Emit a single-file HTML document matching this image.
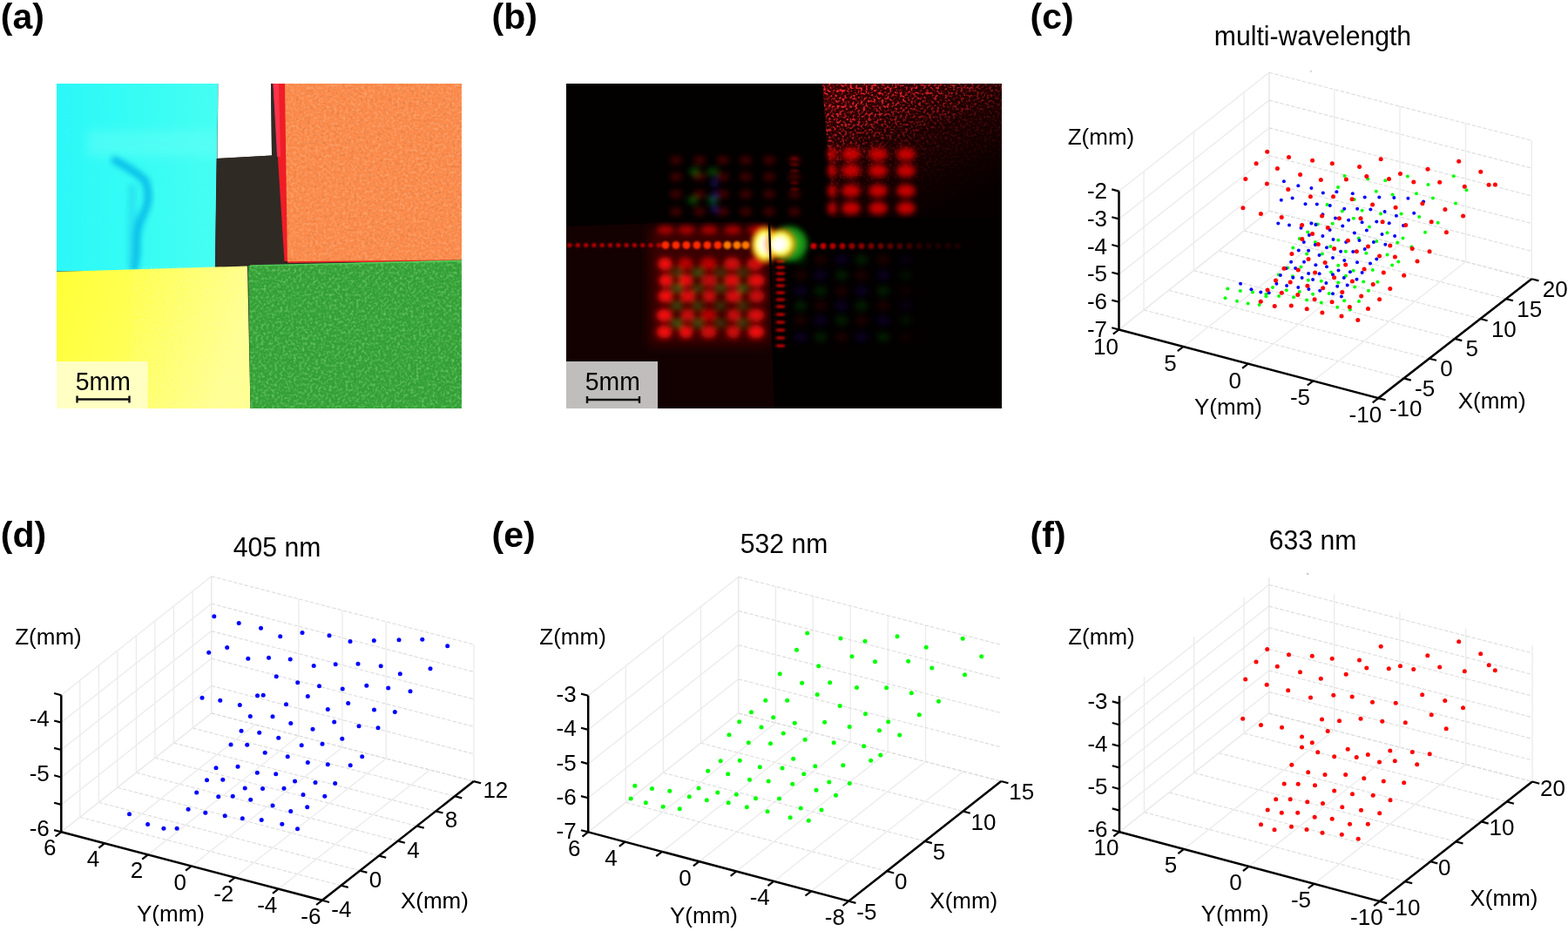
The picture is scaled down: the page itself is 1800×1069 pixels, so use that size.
<!DOCTYPE html>
<html><head><meta charset="utf-8"><style>
html,body{margin:0;padding:0;background:#fff;}
svg{display:block;}
text{font-family:'Liberation Sans', Arial, Helvetica, sans-serif;fill:#000;}
.gs{stroke:#ebebeb;stroke-width:1.3;}
.gd{stroke:#dcdcdc;stroke-width:1.1;stroke-dasharray:4.5 2;}
.ax{stroke:#000;stroke-width:2.5;fill:none;stroke-linejoin:miter;}
.tk{stroke:#000;stroke-width:2.2;}
.lbl{font-weight:bold;font-size:41px;}
</style></head><body>
<svg width="1800" height="1069" viewBox="0 0 1800 1069">
<rect width="1800" height="1069" fill="#fff"/>

<defs>
<filter id="spkW" x="0" y="0" width="100%" height="100%">
  <feTurbulence type="fractalNoise" baseFrequency="0.45" numOctaves="2" seed="4"/>
  <feColorMatrix type="matrix" values="0 0 0 0 1  0 0 0 0 1  0 0 0 0 1  2.2 0 0 0 -1.05"/>
  <feComposite in2="SourceGraphic" operator="in"/>
</filter>
<filter id="spkD" x="0" y="0" width="100%" height="100%">
  <feTurbulence type="fractalNoise" baseFrequency="0.3" numOctaves="2" seed="11"/>
  <feColorMatrix type="matrix" values="0 0 0 0 0  0 0 0 0 0  0 0 0 0 0  2.0 0 0 0 -0.95"/>
  <feComposite in2="SourceGraphic" operator="in"/>
</filter>
<filter id="spkO" x="0" y="0" width="100%" height="100%">
  <feTurbulence type="fractalNoise" baseFrequency="0.32" numOctaves="2" seed="5"/>
  <feColorMatrix type="matrix" values="0 0 0 0 1  0 0 0 0 0.66  0 0 0 0 0.42  2.6 0 0 0 -1.15"/>
  <feGaussianBlur stdDeviation="0.6"/>
  <feComposite in2="SourceGraphic" operator="in"/>
</filter>
<filter id="spkG" x="0" y="0" width="100%" height="100%">
  <feTurbulence type="fractalNoise" baseFrequency="0.32" numOctaves="2" seed="9"/>
  <feColorMatrix type="matrix" values="0 0 0 0 0.36  0 0 0 0 0.84  0 0 0 0 0.3  2.6 0 0 0 -1.15"/>
  <feGaussianBlur stdDeviation="0.6"/>
  <feComposite in2="SourceGraphic" operator="in"/>
</filter>
<filter id="redN" x="0" y="0" width="100%" height="100%">
  <feTurbulence type="fractalNoise" baseFrequency="0.33" numOctaves="2" seed="7"/>
  <feColorMatrix type="matrix" values="0 0 0 0 0.9  0 0 0 0 0.02  0 0 0 0 0.03  5 0 0 0 -2.45"/>
  <feComposite in2="SourceGraphic" operator="in"/>
</filter>
<filter id="bl2" x="-20%" y="-20%" width="140%" height="140%"><feGaussianBlur stdDeviation="2.2"/></filter>
<filter id="bl3" x="-20%" y="-20%" width="140%" height="140%"><feGaussianBlur stdDeviation="3"/></filter>
<filter id="bl1" x="-20%" y="-20%" width="140%" height="140%"><feGaussianBlur stdDeviation="1.2"/></filter>
<filter id="bl4" x="-30%" y="-30%" width="160%" height="160%"><feGaussianBlur stdDeviation="4"/></filter>
<filter id="bl6" x="-50%" y="-50%" width="200%" height="200%"><feGaussianBlur stdDeviation="6"/></filter>
<linearGradient id="yelG" x1="0" y1="0" x2="1" y2="0.25">
  <stop offset="0" stop-color="#ffff36"/><stop offset="0.45" stop-color="#ffff55"/><stop offset="1" stop-color="#ffff92"/>
</linearGradient>
<linearGradient id="cyG" x1="0" y1="0" x2="1" y2="0">
  <stop offset="0" stop-color="#2cf8f8"/><stop offset="0.5" stop-color="#36fcf4"/><stop offset="1" stop-color="#46fef2"/>
</linearGradient>
<linearGradient id="redFade" x1="0.1" y1="0" x2="0.6" y2="1">
  <stop offset="0" stop-color="#fff" stop-opacity="1"/><stop offset="0.25" stop-color="#fff" stop-opacity="0.75"/><stop offset="0.5" stop-color="#fff" stop-opacity="0.2"/><stop offset="0.75" stop-color="#fff" stop-opacity="0.04"/><stop offset="1" stop-color="#fff" stop-opacity="0"/>
</linearGradient>
<mask id="redMask" maskUnits="userSpaceOnUse" x="940" y="96" width="210" height="160">
  <rect x="940" y="96" width="210" height="160" fill="url(#redFade)"/>
</mask>
<radialGradient id="core" cx="0.5" cy="0.5" r="0.5">
  <stop offset="0" stop-color="#ffffff"/><stop offset="0.35" stop-color="#ffffe0"/><stop offset="0.6" stop-color="#ffff40"/><stop offset="0.85" stop-color="#ff8000" stop-opacity="0.6"/><stop offset="1" stop-color="#ff0000" stop-opacity="0"/>
</radialGradient>
<radialGradient id="halo" cx="0.5" cy="0.5" r="0.5">
  <stop offset="0" stop-color="#40ff20" stop-opacity="0.9"/><stop offset="0.7" stop-color="#20c020" stop-opacity="0.7"/><stop offset="1" stop-color="#00a000" stop-opacity="0"/>
</radialGradient>
<linearGradient id="rbase" x1="0" y1="0" x2="0.6" y2="1">
  <stop offset="0" stop-color="#3a0000"/><stop offset="0.5" stop-color="#1c0000"/><stop offset="1" stop-color="#060000"/>
</linearGradient>
<clipPath id="clipB"><rect x="650" y="96" width="500" height="373"/></clipPath>
</defs>
<g><rect x="65" y="96" width="465" height="373" fill="#2a2420"/><polygon points="65,96 250.5,96 246.8,311 65,311.5" fill="url(#cyG)"/><g filter="url(#bl6)" opacity="0.45"><rect x="100" y="150" width="150" height="30" fill="#6afff6"/></g><g filter="url(#bl3)" opacity="0.8"><path d="M132,184 C142,190 158,198 167,208 C172,222 170,235 165,245 C158,258 156,270 157,285 C157,295 155,302 154,309" stroke="#00b0e6" stroke-width="9" fill="none" stroke-linecap="round"/><path d="M152,212 C152,240 151,270 151,305" stroke="#10c0ea" stroke-width="8" fill="none" opacity="0.55"/></g><polygon points="250.5,96 311,96 312,178.5 249.5,182" fill="#ffffff"/><polygon points="248.5,182 312,178.5 311,96 316,96 327,303 247,305.5" fill="#302a25"/><polygon points="313.5,96 328,96 331,300 326.5,300" fill="#f01c26"/><polygon points="313.5,96 320,96 322,180 318,180" fill="#ff3a58" opacity="0.8"/><polygon points="327,96 530,96 530,299.5 330,301.5" fill="#fc8a4a"/><polygon points="327,96 530,96 530,299.5 330,301.5" filter="url(#spkO)" opacity="0.35"/><polygon points="327,96 530,96 530,299.5 330,301.5" filter="url(#spkD)" opacity="0.1"/><line x1="330" y1="301" x2="530" y2="299" stroke="#ee2222" stroke-width="1.5"/><polygon points="65,312 284,305.5 287.5,469 65,469" fill="url(#yelG)"/><polygon points="150,306 284,305.5 287.5,469 150,469" filter="url(#spkW)" opacity="0.3"/><polygon points="285,305 530,298.5 530,469 287.5,469" fill="#33a036"/><polygon points="285,305 530,298.5 530,469 287.5,469" filter="url(#spkG)" opacity="0.45"/><line x1="287" y1="305" x2="530" y2="299.5" stroke="#58d860" stroke-width="1.5" opacity="0.8"/><rect x="65" y="415" width="104.5" height="54" fill="#ffffc4"/><text transform="translate(86.8,448.3) scale(0.945,1)" font-size="30" font-family="'Liberation Sans', Arial, Helvetica, sans-serif" fill="#111">5mm</text><path d="M88 458.5H149M88.5 454.5v8M148.5 454.5v8" stroke="#111" stroke-width="2.4" fill="none"/></g>
<g clip-path="url(#clipB)"><rect x="650" y="96" width="500" height="373" fill="#030000"/><polygon points="650,260 760,256 884,255 890,469 650,469" fill="#130101"/><g filter="url(#bl6)"><rect x="745" y="262" width="140" height="135" fill="#3a0404"/></g><polygon points="944,96 1150,96 1150,250 956,250" fill="url(#rbase)"/><g mask="url(#redMask)"><polygon points="944,96 1150,96 1150,250 956,250" filter="url(#redN)"/></g><g filter="url(#bl3)"><ellipse cx="776" cy="184" rx="7" ry="5" fill="#a00000" opacity="0.4"/><ellipse cx="776" cy="203" rx="7" ry="5" fill="#a00000" opacity="0.4"/><ellipse cx="776" cy="223" rx="7" ry="5" fill="#a00000" opacity="0.4"/><ellipse cx="776" cy="243" rx="7" ry="5" fill="#a00000" opacity="0.4"/><ellipse cx="803" cy="184" rx="7" ry="5" fill="#a00000" opacity="0.4"/><ellipse cx="803" cy="203" rx="7" ry="5" fill="#a00000" opacity="0.4"/><ellipse cx="803" cy="223" rx="7" ry="5" fill="#a00000" opacity="0.4"/><ellipse cx="803" cy="243" rx="7" ry="5" fill="#a00000" opacity="0.4"/><ellipse cx="830" cy="184" rx="7" ry="5" fill="#a00000" opacity="0.4"/><ellipse cx="830" cy="203" rx="7" ry="5" fill="#a00000" opacity="0.4"/><ellipse cx="830" cy="223" rx="7" ry="5" fill="#a00000" opacity="0.4"/><ellipse cx="830" cy="243" rx="7" ry="5" fill="#a00000" opacity="0.4"/><ellipse cx="856" cy="184" rx="7" ry="5" fill="#a00000" opacity="0.4"/><ellipse cx="856" cy="203" rx="7" ry="5" fill="#a00000" opacity="0.4"/><ellipse cx="856" cy="223" rx="7" ry="5" fill="#a00000" opacity="0.4"/><ellipse cx="856" cy="243" rx="7" ry="5" fill="#a00000" opacity="0.4"/><ellipse cx="883" cy="184" rx="7" ry="5" fill="#a00000" opacity="0.4"/><ellipse cx="883" cy="203" rx="7" ry="5" fill="#a00000" opacity="0.4"/><ellipse cx="883" cy="223" rx="7" ry="5" fill="#a00000" opacity="0.4"/><ellipse cx="883" cy="243" rx="7" ry="5" fill="#a00000" opacity="0.4"/><ellipse cx="912" cy="184" rx="7" ry="5" fill="#a00000" opacity="0.4"/><ellipse cx="912" cy="203" rx="7" ry="5" fill="#a00000" opacity="0.4"/><ellipse cx="912" cy="223" rx="7" ry="5" fill="#a00000" opacity="0.4"/><ellipse cx="912" cy="243" rx="7" ry="5" fill="#a00000" opacity="0.4"/><ellipse cx="797" cy="197" rx="6" ry="4" fill="#00a000" opacity="0.45"/><ellipse cx="818" cy="197" rx="6" ry="4" fill="#00a000" opacity="0.45"/><ellipse cx="795" cy="230" rx="6" ry="4" fill="#00a000" opacity="0.45"/><ellipse cx="818" cy="230" rx="6" ry="4" fill="#00a000" opacity="0.45"/><ellipse cx="820" cy="210" rx="3" ry="5" fill="#3020d0" opacity="0.5"/><ellipse cx="820" cy="225" rx="3" ry="5" fill="#3020d0" opacity="0.5"/><ellipse cx="820" cy="240" rx="3" ry="5" fill="#3020d0" opacity="0.5"/><ellipse cx="955" cy="177" rx="5" ry="7.5" fill="#f00808" opacity="0.8"/><ellipse cx="955" cy="196" rx="5" ry="7.5" fill="#f00808" opacity="0.8"/><ellipse cx="955" cy="219" rx="5" ry="7.5" fill="#f00808" opacity="0.8"/><ellipse cx="955" cy="239" rx="5" ry="7.5" fill="#f00808" opacity="0.8"/><ellipse cx="977" cy="177" rx="11" ry="7.5" fill="#f00808" opacity="0.8"/><ellipse cx="977" cy="196" rx="11" ry="7.5" fill="#f00808" opacity="0.8"/><ellipse cx="977" cy="219" rx="11" ry="7.5" fill="#f00808" opacity="0.8"/><ellipse cx="977" cy="239" rx="11" ry="7.5" fill="#f00808" opacity="0.8"/><ellipse cx="1008" cy="177" rx="11" ry="7.5" fill="#f00808" opacity="0.8"/><ellipse cx="1008" cy="196" rx="11" ry="7.5" fill="#f00808" opacity="0.8"/><ellipse cx="1008" cy="219" rx="11" ry="7.5" fill="#f00808" opacity="0.8"/><ellipse cx="1008" cy="239" rx="11" ry="7.5" fill="#f00808" opacity="0.8"/><ellipse cx="1040" cy="177" rx="11" ry="7.5" fill="#f00808" opacity="0.8"/><ellipse cx="1040" cy="196" rx="11" ry="7.5" fill="#f00808" opacity="0.8"/><ellipse cx="1040" cy="219" rx="11" ry="7.5" fill="#f00808" opacity="0.8"/><ellipse cx="1040" cy="239" rx="11" ry="7.5" fill="#f00808" opacity="0.8"/><ellipse cx="763.4714982944995" cy="303" rx="8.377122934811254" ry="7.5" fill="#ff0a0a" opacity="0.95"/><ellipse cx="764.4528034191195" cy="322" rx="8.181090716668857" ry="7.5" fill="#ff0a0a" opacity="0.95"/><ellipse cx="764.1076460129201" cy="340" rx="8.914222292281464" ry="7.5" fill="#ff0a0a" opacity="0.95"/><ellipse cx="762.6739967743241" cy="362" rx="9.268589332973551" ry="7.5" fill="#ff0a0a" opacity="0.95"/><ellipse cx="762.612486975326" cy="381" rx="9.084114209155965" ry="7.5" fill="#ff0a0a" opacity="0.95"/><ellipse cx="786.7721390400316" cy="303" rx="9.061297972856284" ry="7.5" fill="#ff0a0a" opacity="0.6244493982511166"/><ellipse cx="786.8714058834489" cy="322" rx="8.558097411517537" ry="7.5" fill="#ff0a0a" opacity="0.8893982436352132"/><ellipse cx="789.3431268273711" cy="340" rx="9.442757371543747" ry="7.5" fill="#ff0a0a" opacity="0.8196016278419562"/><ellipse cx="789.4287653167787" cy="362" rx="8.11645670154439" ry="7.5" fill="#ff0a0a" opacity="0.738838166127773"/><ellipse cx="787.368827858995" cy="381" rx="8.360637708393593" ry="7.5" fill="#ff0a0a" opacity="0.9004639606670377"/><ellipse cx="813.4254454723058" cy="303" rx="10.040315897800077" ry="7.5" fill="#ff0a0a" opacity="0.6412272833274288"/><ellipse cx="814.2448004909874" cy="322" rx="9.59728367231546" ry="7.5" fill="#ff0a0a" opacity="0.663254232973378"/><ellipse cx="814.1432333971287" cy="340" rx="8.156972437433307" ry="7.5" fill="#ff0a0a" opacity="0.7303391399540059"/><ellipse cx="813.117876138458" cy="362" rx="9.700999932954465" ry="7.5" fill="#ff0a0a" opacity="0.6208604094881814"/><ellipse cx="813.4424415111304" cy="381" rx="9.463904658769097" ry="7.5" fill="#ff0a0a" opacity="0.749657306984291"/><ellipse cx="840.3993009905911" cy="303" rx="9.985948703806228" ry="7.5" fill="#ff0a0a" opacity="0.7586145317297713"/><ellipse cx="840.2322895321664" cy="322" rx="9.436059275646677" ry="7.5" fill="#ff0a0a" opacity="0.8446480518053499"/><ellipse cx="842.1254124867203" cy="340" rx="9.823613223598045" ry="7.5" fill="#ff0a0a" opacity="0.783818776334008"/><ellipse cx="842.4405245424778" cy="362" rx="8.295164445637406" ry="7.5" fill="#ff0a0a" opacity="0.7007782177115652"/><ellipse cx="841.7714227886958" cy="381" rx="8.379961336651261" ry="7.5" fill="#ff0a0a" opacity="0.7463429876248295"/><ellipse cx="866.6176217711424" cy="303" rx="9.670539641335989" ry="7.5" fill="#ff0a0a" opacity="0.7711370851665319"/><ellipse cx="868.2190778208321" cy="322" rx="10.188694529577221" ry="7.5" fill="#ff0a0a" opacity="0.8675998031744845"/><ellipse cx="868.585886098821" cy="340" rx="9.485924692762547" ry="7.5" fill="#ff0a0a" opacity="0.7098116294968339"/><ellipse cx="867.8686159939042" cy="362" rx="10.099919451281353" ry="7.5" fill="#ff0a0a" opacity="0.8029633214988723"/><ellipse cx="867.9222950122589" cy="381" rx="9.660380513686686" ry="7.5" fill="#ff0a0a" opacity="0.930638383287778"/><ellipse cx="777" cy="313" rx="5" ry="4" fill="#20c020" opacity="0.3182008282791659"/><ellipse cx="777" cy="331" rx="5" ry="4" fill="#20c020" opacity="0.5104476063913271"/><ellipse cx="777" cy="351" rx="5" ry="4" fill="#20c020" opacity="0.4941386563583006"/><ellipse cx="777" cy="371" rx="5" ry="4" fill="#20c020" opacity="0.5979287818399902"/><ellipse cx="801" cy="313" rx="5" ry="4" fill="#20c020" opacity="0.5465774359829144"/><ellipse cx="801" cy="331" rx="5" ry="4" fill="#20c020" opacity="0.38537865962824475"/><ellipse cx="801" cy="351" rx="5" ry="4" fill="#20c020" opacity="0.4157374327340132"/><ellipse cx="801" cy="371" rx="5" ry="4" fill="#20c020" opacity="0.5005958147652565"/><ellipse cx="827" cy="313" rx="5" ry="4" fill="#20c020" opacity="0.30676887841667655"/><ellipse cx="827" cy="331" rx="5" ry="4" fill="#20c020" opacity="0.43850858588992975"/><ellipse cx="827" cy="351" rx="5" ry="4" fill="#20c020" opacity="0.35041451367196336"/><ellipse cx="827" cy="371" rx="5" ry="4" fill="#20c020" opacity="0.33512873834451956"/><ellipse cx="853" cy="313" rx="5" ry="4" fill="#20c020" opacity="0.3176863257993931"/><ellipse cx="853" cy="331" rx="5" ry="4" fill="#20c020" opacity="0.5304698965417562"/><ellipse cx="853" cy="351" rx="5" ry="4" fill="#20c020" opacity="0.33880206660560525"/><ellipse cx="853" cy="371" rx="5" ry="4" fill="#20c020" opacity="0.3742844501090743"/><ellipse cx="764" cy="264" rx="10" ry="5" fill="#e00000" opacity="0.7"/><ellipse cx="788" cy="264" rx="10" ry="5" fill="#e00000" opacity="0.7"/><ellipse cx="814" cy="264" rx="10" ry="5" fill="#e00000" opacity="0.7"/><ellipse cx="841" cy="264" rx="10" ry="5" fill="#e00000" opacity="0.7"/><ellipse cx="868" cy="264" rx="10" ry="5" fill="#e00000" opacity="0.7"/><ellipse cx="919" cy="298" rx="7.5" ry="5.5" fill="#008a00" opacity="0.2"/><ellipse cx="919" cy="316" rx="7.5" ry="5.5" fill="#800000" opacity="0.2"/><ellipse cx="919" cy="334" rx="7.5" ry="5.5" fill="#2a10a0" opacity="0.2"/><ellipse cx="919" cy="351" rx="7.5" ry="5.5" fill="#008a00" opacity="0.2"/><ellipse cx="919" cy="368" rx="7.5" ry="5.5" fill="#800000" opacity="0.2"/><ellipse cx="919" cy="387" rx="7.5" ry="5.5" fill="#2a10a0" opacity="0.2"/><ellipse cx="942" cy="298" rx="7.5" ry="5.5" fill="#800000" opacity="0.2"/><ellipse cx="942" cy="316" rx="7.5" ry="5.5" fill="#2a10a0" opacity="0.2"/><ellipse cx="942" cy="334" rx="7.5" ry="5.5" fill="#008a00" opacity="0.2"/><ellipse cx="942" cy="351" rx="7.5" ry="5.5" fill="#800000" opacity="0.2"/><ellipse cx="942" cy="368" rx="7.5" ry="5.5" fill="#2a10a0" opacity="0.2"/><ellipse cx="942" cy="387" rx="7.5" ry="5.5" fill="#008a00" opacity="0.2"/><ellipse cx="966" cy="298" rx="7.5" ry="5.5" fill="#2a10a0" opacity="0.2"/><ellipse cx="966" cy="316" rx="7.5" ry="5.5" fill="#008a00" opacity="0.2"/><ellipse cx="966" cy="334" rx="7.5" ry="5.5" fill="#800000" opacity="0.2"/><ellipse cx="966" cy="351" rx="7.5" ry="5.5" fill="#2a10a0" opacity="0.2"/><ellipse cx="966" cy="368" rx="7.5" ry="5.5" fill="#008a00" opacity="0.2"/><ellipse cx="966" cy="387" rx="7.5" ry="5.5" fill="#800000" opacity="0.2"/><ellipse cx="989" cy="298" rx="7.5" ry="5.5" fill="#008a00" opacity="0.2"/><ellipse cx="989" cy="316" rx="7.5" ry="5.5" fill="#800000" opacity="0.2"/><ellipse cx="989" cy="334" rx="7.5" ry="5.5" fill="#2a10a0" opacity="0.2"/><ellipse cx="989" cy="351" rx="7.5" ry="5.5" fill="#008a00" opacity="0.2"/><ellipse cx="989" cy="368" rx="7.5" ry="5.5" fill="#800000" opacity="0.2"/><ellipse cx="989" cy="387" rx="7.5" ry="5.5" fill="#2a10a0" opacity="0.2"/><ellipse cx="1014" cy="298" rx="7.5" ry="5.5" fill="#800000" opacity="0.2"/><ellipse cx="1014" cy="316" rx="7.5" ry="5.5" fill="#2a10a0" opacity="0.2"/><ellipse cx="1014" cy="334" rx="7.5" ry="5.5" fill="#008a00" opacity="0.2"/><ellipse cx="1014" cy="351" rx="7.5" ry="5.5" fill="#800000" opacity="0.2"/><ellipse cx="1014" cy="368" rx="7.5" ry="5.5" fill="#2a10a0" opacity="0.2"/><ellipse cx="1014" cy="387" rx="7.5" ry="5.5" fill="#008a00" opacity="0.2"/><ellipse cx="1040" cy="298" rx="7.5" ry="5.5" fill="#2a10a0" opacity="0.1"/><ellipse cx="1040" cy="316" rx="7.5" ry="5.5" fill="#008a00" opacity="0.1"/><ellipse cx="1040" cy="334" rx="7.5" ry="5.5" fill="#800000" opacity="0.1"/><ellipse cx="1040" cy="351" rx="7.5" ry="5.5" fill="#2a10a0" opacity="0.1"/><ellipse cx="1040" cy="368" rx="7.5" ry="5.5" fill="#008a00" opacity="0.1"/><ellipse cx="1040" cy="387" rx="7.5" ry="5.5" fill="#800000" opacity="0.1"/></g><g filter="url(#bl1)"><ellipse cx="654" cy="281.5" rx="2.6" ry="2.6" fill="#d00000" opacity="0.9"/><ellipse cx="663.3" cy="281.5" rx="2.6" ry="2.6" fill="#d00000" opacity="0.9"/><ellipse cx="672.6" cy="281.5" rx="2.6" ry="2.6" fill="#d00000" opacity="0.9"/><ellipse cx="681.9" cy="281.5" rx="2.6" ry="2.6" fill="#d00000" opacity="0.9"/><ellipse cx="691.2" cy="281.5" rx="2.6" ry="2.6" fill="#d00000" opacity="0.9"/><ellipse cx="700.5" cy="281.5" rx="2.6" ry="2.6" fill="#d00000" opacity="0.9"/><ellipse cx="709.8" cy="281.5" rx="2.6" ry="2.6" fill="#d00000" opacity="0.9"/><ellipse cx="719.1" cy="281.5" rx="2.6" ry="2.6" fill="#d00000" opacity="0.9"/><ellipse cx="728.4" cy="281.5" rx="2.6" ry="2.6" fill="#d00000" opacity="0.9"/><ellipse cx="737.7" cy="281.5" rx="2.6" ry="2.6" fill="#d00000" opacity="0.9"/><ellipse cx="747.0" cy="281.5" rx="2.6" ry="2.6" fill="#d00000" opacity="0.9"/><ellipse cx="756.3" cy="281.5" rx="2.6" ry="2.6" fill="#d00000" opacity="0.9"/><ellipse cx="764" cy="281.5" rx="4.5" ry="4.5" fill="#ff2a00" opacity="1"/><ellipse cx="776" cy="281.5" rx="4.5" ry="4.5" fill="#ff2a00" opacity="1"/><ellipse cx="788" cy="281.5" rx="4.5" ry="4.5" fill="#ff2a00" opacity="1"/><ellipse cx="800" cy="281.5" rx="4.5" ry="4.5" fill="#ff2a00" opacity="1"/><ellipse cx="812" cy="281.5" rx="4.5" ry="4.5" fill="#ff2a00" opacity="1"/><ellipse cx="824" cy="281.5" rx="4.5" ry="4.5" fill="#ff2a00" opacity="1"/><ellipse cx="835" cy="281.5" rx="4.5" ry="4.5" fill="#ff7a00" opacity="1"/><ellipse cx="846" cy="281.5" rx="4.5" ry="4.5" fill="#ff7a00" opacity="1"/><ellipse cx="856" cy="281.5" rx="4.5" ry="4.5" fill="#ff7a00" opacity="1"/><ellipse cx="934" cy="282.5" rx="3.5" ry="3.5" fill="#e00000" opacity="0.95"/><ellipse cx="945" cy="282.5" rx="3.5" ry="3.5" fill="#e00000" opacity="0.88125"/><ellipse cx="956" cy="282.5" rx="3.5" ry="3.5" fill="#e00000" opacity="0.8125"/><ellipse cx="967" cy="282.5" rx="3.5" ry="3.5" fill="#e00000" opacity="0.7437499999999999"/><ellipse cx="978" cy="282.5" rx="3.5" ry="3.5" fill="#e00000" opacity="0.6749999999999999"/><ellipse cx="989" cy="282.5" rx="3.5" ry="3.5" fill="#e00000" opacity="0.60625"/><ellipse cx="1000" cy="282.5" rx="3.5" ry="3.5" fill="#e00000" opacity="0.5375"/><ellipse cx="1011" cy="282.5" rx="3.5" ry="3.5" fill="#e00000" opacity="0.46874999999999994"/><ellipse cx="1022" cy="282.5" rx="3.5" ry="3.5" fill="#e00000" opacity="0.3999999999999999"/><ellipse cx="1033" cy="282.5" rx="3.5" ry="3.5" fill="#e00000" opacity="0.33124999999999993"/><ellipse cx="1044" cy="282.5" rx="3.5" ry="3.5" fill="#e00000" opacity="0.26249999999999996"/><ellipse cx="1055" cy="282.5" rx="3.5" ry="3.5" fill="#e00000" opacity="0.19374999999999998"/><ellipse cx="1066" cy="282.5" rx="3.5" ry="3.5" fill="#e00000" opacity="0.125"/><ellipse cx="1077" cy="282.5" rx="3.5" ry="3.5" fill="#e00000" opacity="0.12"/><ellipse cx="1088" cy="282.5" rx="3.5" ry="3.5" fill="#e00000" opacity="0.12"/><ellipse cx="1099" cy="282.5" rx="3.5" ry="3.5" fill="#e00000" opacity="0.12"/><ellipse cx="896" cy="300" rx="5.5" ry="1.8" fill="#e80000" opacity="0.85"/><ellipse cx="896" cy="307" rx="5.5" ry="1.8" fill="#e80000" opacity="0.85"/><ellipse cx="896" cy="314" rx="5.5" ry="1.8" fill="#e80000" opacity="0.85"/><ellipse cx="896" cy="321" rx="5.5" ry="1.8" fill="#e80000" opacity="0.85"/><ellipse cx="896" cy="328" rx="5.5" ry="1.8" fill="#e80000" opacity="0.85"/><ellipse cx="896" cy="336" rx="5.5" ry="1.8" fill="#e80000" opacity="0.85"/><ellipse cx="896" cy="344" rx="5.5" ry="1.8" fill="#e80000" opacity="0.85"/><ellipse cx="896" cy="352" rx="5.5" ry="1.8" fill="#e80000" opacity="0.85"/><ellipse cx="896" cy="361" rx="5.5" ry="1.8" fill="#e80000" opacity="0.85"/><ellipse cx="896" cy="370" rx="5.5" ry="1.8" fill="#e80000" opacity="0.85"/><ellipse cx="896" cy="379" rx="5.5" ry="1.8" fill="#e80000" opacity="0.85"/><ellipse cx="896" cy="388" rx="5.5" ry="1.8" fill="#e80000" opacity="0.85"/><ellipse cx="896" cy="397" rx="5.5" ry="1.8" fill="#e80000" opacity="0.85"/><ellipse cx="912" cy="182" rx="5" ry="1.6" fill="#b00000" opacity="0.5"/><ellipse cx="912" cy="189" rx="5" ry="1.6" fill="#b00000" opacity="0.5"/><ellipse cx="912" cy="196" rx="5" ry="1.6" fill="#b00000" opacity="0.5"/><ellipse cx="912" cy="210" rx="5" ry="1.6" fill="#b00000" opacity="0.5"/><ellipse cx="912" cy="217" rx="5" ry="1.6" fill="#b00000" opacity="0.5"/></g><g filter="url(#bl2)"><ellipse cx="906" cy="280" rx="25" ry="24" fill="url(#halo)"/><ellipse cx="878" cy="281" rx="18" ry="24" fill="url(#core)"/><ellipse cx="896" cy="280" rx="19" ry="19" fill="url(#core)"/><ellipse cx="893" cy="281" rx="7" ry="7" fill="#ffffff"/></g><line x1="883" y1="256" x2="890" y2="469" stroke="#000" stroke-width="2.4"/><rect x="650" y="415" width="105" height="54" fill="#c0bebd"/><text transform="translate(671.8,448.3) scale(0.945,1)" font-size="30" font-family="'Liberation Sans', Arial, Helvetica, sans-serif" fill="#111">5mm</text><path d="M673.5 459H734.5M674 455v8M734 455v8" stroke="#111" stroke-width="2.4" fill="none"/></g>
<g><line x1="1284.5" y1="378.5" x2="1582.4" y2="457.1" class="gd"/><line x1="1313.1" y1="355.9" x2="1611.5" y2="434.4" class="gd"/><line x1="1341.7" y1="333.3" x2="1640.8" y2="411.7" class="gd"/><line x1="1370.4" y1="310.6" x2="1670.0" y2="388.9" class="gd"/><line x1="1399.2" y1="287.8" x2="1699.4" y2="366.0" class="gd"/><line x1="1428.0" y1="265.0" x2="1728.8" y2="343.1" class="gd"/><line x1="1456.9" y1="242.2" x2="1758.3" y2="320.2" class="gd"/><line x1="1284.5" y1="378.5" x2="1456.9" y2="242.2" class="gs"/><line x1="1358.5" y1="398.0" x2="1531.8" y2="261.6" class="gs"/><line x1="1432.8" y1="417.6" x2="1607.0" y2="281.0" class="gs"/><line x1="1507.5" y1="437.3" x2="1682.5" y2="300.6" class="gs"/><line x1="1582.4" y1="457.1" x2="1758.3" y2="320.2" class="gs"/><line x1="1313.1" y1="355.9" x2="1313.1" y2="197.0" class="gs"/><line x1="1370.4" y1="310.6" x2="1370.4" y2="151.7" class="gs"/><line x1="1428.0" y1="265.0" x2="1428.0" y2="106.1" class="gs"/><line x1="1456.9" y1="242.2" x2="1456.9" y2="83.3" class="gs"/><line x1="1284.5" y1="378.5" x2="1456.9" y2="242.2" class="gs"/><line x1="1284.5" y1="346.7" x2="1456.9" y2="210.4" class="gs"/><line x1="1284.5" y1="314.9" x2="1456.9" y2="178.6" class="gs"/><line x1="1284.5" y1="283.2" x2="1456.9" y2="146.9" class="gs"/><line x1="1284.5" y1="251.4" x2="1456.9" y2="115.1" class="gs"/><line x1="1284.5" y1="219.6" x2="1456.9" y2="83.3" class="gs"/><line x1="1456.9" y1="242.2" x2="1456.9" y2="83.3" class="gs"/><line x1="1531.8" y1="261.6" x2="1531.8" y2="102.7" class="gs"/><line x1="1607.0" y1="281.0" x2="1607.0" y2="122.1" class="gs"/><line x1="1682.5" y1="300.6" x2="1682.5" y2="141.7" class="gs"/><line x1="1758.3" y1="320.2" x2="1758.3" y2="161.3" class="gs"/><line x1="1456.9" y1="242.2" x2="1758.3" y2="320.2" class="gd"/><line x1="1456.9" y1="210.4" x2="1758.3" y2="288.4" class="gd"/><line x1="1456.9" y1="178.6" x2="1758.3" y2="256.6" class="gd"/><line x1="1456.9" y1="146.9" x2="1758.3" y2="224.9" class="gd"/><line x1="1456.9" y1="115.1" x2="1758.3" y2="193.1" class="gd"/><line x1="1456.9" y1="83.3" x2="1758.3" y2="161.3" class="gd"/></g>
<g><polyline points="1284.5,219.6 1284.5,378.5 1582.4,457.1 1758.3,320.2" class="ax"/><line x1="1284.5" y1="378.5" x2="1276.3" y2="376.3" class="tk"/><line x1="1284.5" y1="346.7" x2="1276.3" y2="344.6" class="tk"/><line x1="1284.5" y1="314.9" x2="1276.3" y2="312.8" class="tk"/><line x1="1284.5" y1="283.2" x2="1276.3" y2="281.0" class="tk"/><line x1="1284.5" y1="251.4" x2="1276.3" y2="249.2" class="tk"/><line x1="1284.5" y1="219.6" x2="1276.3" y2="217.4" class="tk"/><line x1="1284.5" y1="378.5" x2="1277.8" y2="383.7" class="tk"/><line x1="1358.5" y1="398.0" x2="1351.8" y2="403.2" class="tk"/><line x1="1432.8" y1="417.6" x2="1426.1" y2="422.9" class="tk"/><line x1="1507.5" y1="437.3" x2="1500.8" y2="442.5" class="tk"/><line x1="1582.4" y1="457.1" x2="1575.7" y2="462.3" class="tk"/><line x1="1582.4" y1="457.1" x2="1590.6" y2="459.3" class="tk"/><line x1="1611.5" y1="434.4" x2="1619.8" y2="436.6" class="tk"/><line x1="1640.8" y1="411.7" x2="1649.0" y2="413.8" class="tk"/><line x1="1670.0" y1="388.9" x2="1678.3" y2="391.1" class="tk"/><line x1="1699.4" y1="366.0" x2="1707.6" y2="368.2" class="tk"/><line x1="1728.8" y1="343.1" x2="1737.0" y2="345.3" class="tk"/><line x1="1758.3" y1="320.2" x2="1766.5" y2="322.4" class="tk"/></g>
<g font-size="26"><text x="1271.0" y="228.1" text-anchor="end">-2</text><text x="1271.0" y="259.9" text-anchor="end">-3</text><text x="1271.0" y="291.7" text-anchor="end">-4</text><text x="1271.0" y="323.4" text-anchor="end">-5</text><text x="1271.0" y="355.2" text-anchor="end">-6</text><text x="1271.0" y="387.0" text-anchor="end">-7</text><text x="1269.5" y="406.5" text-anchor="middle">10</text><text x="1343.5" y="426.0" text-anchor="middle">5</text><text x="1417.8" y="445.6" text-anchor="middle">0</text><text x="1492.5" y="465.3" text-anchor="middle">-5</text><text x="1567.4" y="485.1" text-anchor="middle">-10</text><text x="1594.9" y="477.6" text-anchor="start">-10</text><text x="1624.0" y="454.9" text-anchor="start">-5</text><text x="1653.3" y="432.2" text-anchor="start">0</text><text x="1682.5" y="409.4" text-anchor="start">5</text><text x="1711.9" y="386.5" text-anchor="start">10</text><text x="1741.3" y="363.6" text-anchor="start">15</text><text x="1770.8" y="340.7" text-anchor="start">20</text><text x="1264.0" y="165.7" text-anchor="middle">Z(mm)</text><text x="1410.0" y="475.5" text-anchor="middle">Y(mm)</text><text x="1712.7" y="468.7" text-anchor="middle">X(mm)</text></g>
<text transform="translate(1507,52) scale(0.955,1)" text-anchor="middle" font-size="31.6">multi-wavelength</text>
<g><circle cx="1543.5" cy="202.1" r="2.0" fill="#00ff00"/><circle cx="1570.2" cy="205.6" r="2.0" fill="#00ff00"/><circle cx="1590.3" cy="207.2" r="2.0" fill="#00ff00"/><circle cx="1615.9" cy="202.4" r="2.0" fill="#00ff00"/><circle cx="1536" cy="214.9" r="2.0" fill="#00ff00"/><circle cx="1579.8" cy="219.8" r="2.0" fill="#00ff00"/><circle cx="1598.6" cy="223.4" r="2.0" fill="#00ff00"/><circle cx="1554.7" cy="229" r="2.0" fill="#00ff00"/><circle cx="1523.5" cy="235.1" r="2.0" fill="#00ff00"/><circle cx="1540.8" cy="242.4" r="2.0" fill="#00ff00"/><circle cx="1563.6" cy="241.8" r="2.0" fill="#00ff00"/><circle cx="1585" cy="245.5" r="2.0" fill="#00ff00"/><circle cx="1608.6" cy="245.4" r="2.0" fill="#00ff00"/><circle cx="1553.9" cy="250.7" r="2.0" fill="#00ff00"/><circle cx="1529.6" cy="256.8" r="2.0" fill="#00ff00"/><circle cx="1512.6" cy="257.4" r="2.0" fill="#00ff00"/><circle cx="1572" cy="260.5" r="2.0" fill="#00ff00"/><circle cx="1501.2" cy="266.6" r="2.0" fill="#00ff00"/><circle cx="1592.5" cy="267.2" r="2.0" fill="#00ff00"/><circle cx="1610.5" cy="273.5" r="2.0" fill="#00ff00"/><circle cx="1491.8" cy="274.1" r="2.0" fill="#00ff00"/><circle cx="1536.3" cy="275.7" r="2.0" fill="#00ff00"/><circle cx="1559.7" cy="273.5" r="2.0" fill="#00ff00"/><circle cx="1580.3" cy="276.9" r="2.0" fill="#00ff00"/><circle cx="1509.9" cy="278" r="2.0" fill="#00ff00"/><circle cx="1604.2" cy="278.5" r="2.0" fill="#00ff00"/><circle cx="1668.8" cy="202.3" r="2.0" fill="#00ff00"/><circle cx="1639.5" cy="212" r="2.0" fill="#00ff00"/><circle cx="1683.5" cy="218.2" r="2.0" fill="#00ff00"/><circle cx="1626" cy="222.3" r="2.0" fill="#00ff00"/><circle cx="1644.9" cy="227.4" r="2.0" fill="#00ff00"/><circle cx="1671" cy="233.5" r="2.0" fill="#00ff00"/><circle cx="1629.2" cy="249" r="2.0" fill="#00ff00"/><circle cx="1650.7" cy="255.7" r="2.0" fill="#00ff00"/><circle cx="1636" cy="266.8" r="2.0" fill="#00ff00"/><circle cx="1484.3" cy="284.5" r="2.0" fill="#00ff00"/><circle cx="1500.1" cy="291.5" r="2.0" fill="#00ff00"/><circle cx="1517.9" cy="291.5" r="2.0" fill="#00ff00"/><circle cx="1527.4" cy="283.1" r="2.0" fill="#00ff00"/><circle cx="1544.9" cy="288.7" r="2.0" fill="#00ff00"/><circle cx="1568.4" cy="290.7" r="2.0" fill="#00ff00"/><circle cx="1592.5" cy="292.6" r="2.0" fill="#00ff00"/><circle cx="1605.3" cy="300.4" r="2.0" fill="#00ff00"/><circle cx="1598.1" cy="304.6" r="2.0" fill="#00ff00"/><circle cx="1536.3" cy="304.8" r="2.0" fill="#00ff00"/><circle cx="1553.6" cy="310.7" r="2.0" fill="#00ff00"/><circle cx="1575.8" cy="309.9" r="2.0" fill="#00ff00"/><circle cx="1493.5" cy="306.5" r="2.0" fill="#00ff00"/><circle cx="1478.2" cy="307.6" r="2.0" fill="#00ff00"/><circle cx="1467.9" cy="315.4" r="2.0" fill="#00ff00"/><circle cx="1484" cy="317.3" r="2.0" fill="#00ff00"/><circle cx="1501.8" cy="321.8" r="2.0" fill="#00ff00"/><circle cx="1516.8" cy="322.7" r="2.0" fill="#00ff00"/><circle cx="1528" cy="312.4" r="2.0" fill="#00ff00"/><circle cx="1545" cy="316.8" r="2.0" fill="#00ff00"/><circle cx="1536.3" cy="324.5" r="2.0" fill="#00ff00"/><circle cx="1565.2" cy="323.4" r="2.0" fill="#00ff00"/><circle cx="1581.4" cy="323.8" r="2.0" fill="#00ff00"/><circle cx="1555.2" cy="329.6" r="2.0" fill="#00ff00"/><circle cx="1571" cy="333.8" r="2.0" fill="#00ff00"/><circle cx="1461" cy="329.9" r="2.0" fill="#00ff00"/><circle cx="1476.8" cy="333.2" r="2.0" fill="#00ff00"/><circle cx="1491.8" cy="334.9" r="2.0" fill="#00ff00"/><circle cx="1423.9" cy="334" r="2.0" fill="#00ff00"/><circle cx="1438" cy="335.5" r="2.0" fill="#00ff00"/><circle cx="1453.4" cy="337.7" r="2.0" fill="#00ff00"/><circle cx="1453.4" cy="340.2" r="2.0" fill="#00ff00"/><circle cx="1468.1" cy="339.9" r="2.0" fill="#00ff00"/><circle cx="1485.1" cy="341.2" r="2.0" fill="#00ff00"/><circle cx="1507.1" cy="337.7" r="2.0" fill="#00ff00"/><circle cx="1525.7" cy="337.1" r="2.0" fill="#00ff00"/><circle cx="1500.1" cy="344.6" r="2.0" fill="#00ff00"/><circle cx="1516.8" cy="347.5" r="2.0" fill="#00ff00"/><circle cx="1543.2" cy="345.2" r="2.0" fill="#00ff00"/><circle cx="1560" cy="346" r="2.0" fill="#00ff00"/><circle cx="1420" cy="345.7" r="2.0" fill="#00ff00"/><circle cx="1432.6" cy="348.5" r="2.0" fill="#00ff00"/><circle cx="1445.6" cy="350.1" r="2.0" fill="#00ff00"/><circle cx="1535.2" cy="352.7" r="2.0" fill="#00ff00"/><circle cx="1550" cy="355.5" r="2.0" fill="#00ff00"/><circle cx="1620.3" cy="283.5" r="2.0" fill="#00ff00"/><circle cx="1409.3" cy="331.5" r="2.0" fill="#00ff00"/><circle cx="1406.5" cy="342.3" r="2.0" fill="#00ff00"/><circle cx="1473.9" cy="208.3" r="2.0" fill="#0000ff"/><circle cx="1490.3" cy="213.2" r="2.0" fill="#0000ff"/><circle cx="1505.4" cy="216" r="2.0" fill="#0000ff"/><circle cx="1518.8" cy="221.4" r="2.0" fill="#0000ff"/><circle cx="1534.4" cy="220.2" r="2.0" fill="#0000ff"/><circle cx="1552.8" cy="222.3" r="2.0" fill="#0000ff"/><circle cx="1566.7" cy="226.6" r="2.0" fill="#0000ff"/><circle cx="1583.3" cy="226.6" r="2.0" fill="#0000ff"/><circle cx="1600.3" cy="227.1" r="2.0" fill="#0000ff"/><circle cx="1616.4" cy="227.7" r="2.0" fill="#0000ff"/><circle cx="1470.8" cy="229.8" r="2.0" fill="#0000ff"/><circle cx="1483.6" cy="227.4" r="2.0" fill="#0000ff"/><circle cx="1498.5" cy="234.3" r="2.0" fill="#0000ff"/><circle cx="1511.8" cy="234.6" r="2.0" fill="#0000ff"/><circle cx="1526.8" cy="236.1" r="2.0" fill="#0000ff"/><circle cx="1543.2" cy="239.7" r="2.0" fill="#0000ff"/><circle cx="1558.1" cy="239.8" r="2.0" fill="#0000ff"/><circle cx="1573.4" cy="240.6" r="2.0" fill="#0000ff"/><circle cx="1589.6" cy="242.9" r="2.0" fill="#0000ff"/><circle cx="1602.9" cy="247.7" r="2.0" fill="#0000ff"/><circle cx="1518.4" cy="246.3" r="2.0" fill="#0000ff"/><circle cx="1533" cy="250.5" r="2.0" fill="#0000ff"/><circle cx="1548.1" cy="252.8" r="2.0" fill="#0000ff"/><circle cx="1563.6" cy="255.3" r="2.0" fill="#0000ff"/><circle cx="1580.3" cy="254.4" r="2.0" fill="#0000ff"/><circle cx="1594.7" cy="256.3" r="2.0" fill="#0000ff"/><circle cx="1611" cy="259.1" r="2.0" fill="#0000ff"/><circle cx="1467.3" cy="256.4" r="2.0" fill="#0000ff"/><circle cx="1480" cy="258.4" r="2.0" fill="#0000ff"/><circle cx="1505.4" cy="256.6" r="2.0" fill="#0000ff"/><circle cx="1510.4" cy="257.9" r="2.0" fill="#0000ff"/><circle cx="1493.5" cy="261.7" r="2.0" fill="#0000ff"/><circle cx="1526.6" cy="264.1" r="2.0" fill="#0000ff"/><circle cx="1541.3" cy="259.4" r="2.0" fill="#0000ff"/><circle cx="1554.9" cy="267.5" r="2.0" fill="#0000ff"/><circle cx="1568.9" cy="264.4" r="2.0" fill="#0000ff"/><circle cx="1586.5" cy="269.1" r="2.0" fill="#0000ff"/><circle cx="1601.1" cy="271.1" r="2.0" fill="#0000ff"/><circle cx="1502.9" cy="270" r="2.0" fill="#0000ff"/><circle cx="1518.4" cy="271" r="2.0" fill="#0000ff"/><circle cx="1530.5" cy="274.9" r="2.0" fill="#0000ff"/><circle cx="1560.5" cy="276" r="2.0" fill="#0000ff"/><circle cx="1576.9" cy="278" r="2.0" fill="#0000ff"/><circle cx="1496.8" cy="278" r="2.0" fill="#0000ff"/><circle cx="1545.2" cy="278" r="2.0" fill="#0000ff"/><circle cx="1634.1" cy="231.6" r="2.0" fill="#0000ff"/><circle cx="1623.2" cy="244.8" r="2.0" fill="#0000ff"/><circle cx="1509.9" cy="280.9" r="2.0" fill="#0000ff"/><circle cx="1523" cy="284.3" r="2.0" fill="#0000ff"/><circle cx="1539.1" cy="288.7" r="2.0" fill="#0000ff"/><circle cx="1553.2" cy="289" r="2.0" fill="#0000ff"/><circle cx="1566.7" cy="285.9" r="2.0" fill="#0000ff"/><circle cx="1590.3" cy="280.7" r="2.0" fill="#0000ff"/><circle cx="1490.8" cy="287.6" r="2.0" fill="#0000ff"/><circle cx="1502.1" cy="287.8" r="2.0" fill="#0000ff"/><circle cx="1514.5" cy="292.9" r="2.0" fill="#0000ff"/><circle cx="1530" cy="296" r="2.0" fill="#0000ff"/><circle cx="1543.3" cy="299.1" r="2.0" fill="#0000ff"/><circle cx="1558" cy="301.2" r="2.0" fill="#0000ff"/><circle cx="1573" cy="302.6" r="2.0" fill="#0000ff"/><circle cx="1580.3" cy="297.4" r="2.0" fill="#0000ff"/><circle cx="1482.1" cy="300.7" r="2.0" fill="#0000ff"/><circle cx="1497" cy="300.7" r="2.0" fill="#0000ff"/><circle cx="1510.4" cy="304.3" r="2.0" fill="#0000ff"/><circle cx="1523" cy="306.2" r="2.0" fill="#0000ff"/><circle cx="1536.5" cy="310.6" r="2.0" fill="#0000ff"/><circle cx="1549.9" cy="312.3" r="2.0" fill="#0000ff"/><circle cx="1563.6" cy="313" r="2.0" fill="#0000ff"/><circle cx="1476.2" cy="308.2" r="2.0" fill="#0000ff"/><circle cx="1487.1" cy="307.9" r="2.0" fill="#0000ff"/><circle cx="1502.1" cy="314" r="2.0" fill="#0000ff"/><circle cx="1514.6" cy="314.3" r="2.0" fill="#0000ff"/><circle cx="1530" cy="315.2" r="2.0" fill="#0000ff"/><circle cx="1469.9" cy="315.9" r="2.0" fill="#0000ff"/><circle cx="1484.3" cy="318.8" r="2.0" fill="#0000ff"/><circle cx="1494.6" cy="319.1" r="2.0" fill="#0000ff"/><circle cx="1507.1" cy="321" r="2.0" fill="#0000ff"/><circle cx="1522.4" cy="324.9" r="2.0" fill="#0000ff"/><circle cx="1542.8" cy="319.1" r="2.0" fill="#0000ff"/><circle cx="1557.5" cy="320.8" r="2.0" fill="#0000ff"/><circle cx="1535.2" cy="328.8" r="2.0" fill="#0000ff"/><circle cx="1546.7" cy="327.4" r="2.0" fill="#0000ff"/><circle cx="1424.1" cy="325.7" r="2.0" fill="#0000ff"/><circle cx="1436.4" cy="332.3" r="2.0" fill="#0000ff"/><circle cx="1447.3" cy="335.5" r="2.0" fill="#0000ff"/><circle cx="1456.7" cy="336.3" r="2.0" fill="#0000ff"/><circle cx="1465.4" cy="325.7" r="2.0" fill="#0000ff"/><circle cx="1477.1" cy="328" r="2.0" fill="#0000ff"/><circle cx="1490.3" cy="330.1" r="2.0" fill="#0000ff"/><circle cx="1502.4" cy="332.1" r="2.0" fill="#0000ff"/><circle cx="1515.2" cy="333.8" r="2.0" fill="#0000ff"/><circle cx="1530" cy="337.3" r="2.0" fill="#0000ff"/><circle cx="1539.9" cy="340.5" r="2.0" fill="#0000ff"/><circle cx="1454.7" cy="174.2" r="2.5" fill="#ff0000"/><circle cx="1479.5" cy="180.6" r="2.5" fill="#ff0000"/><circle cx="1506.6" cy="184.2" r="2.5" fill="#ff0000"/><circle cx="1529.3" cy="187.8" r="2.5" fill="#ff0000"/><circle cx="1560.6" cy="191.5" r="2.5" fill="#ff0000"/><circle cx="1585.2" cy="182.7" r="2.5" fill="#ff0000"/><circle cx="1442.1" cy="187.7" r="2.5" fill="#ff0000"/><circle cx="1466.4" cy="193.5" r="2.5" fill="#ff0000"/><circle cx="1492.6" cy="200.5" r="2.5" fill="#ff0000"/><circle cx="1516.3" cy="206.5" r="2.5" fill="#ff0000"/><circle cx="1545.4" cy="206.1" r="2.5" fill="#ff0000"/><circle cx="1568.8" cy="202.6" r="2.5" fill="#ff0000"/><circle cx="1594.5" cy="205.6" r="2.5" fill="#ff0000"/><circle cx="1607.5" cy="199.6" r="2.5" fill="#ff0000"/><circle cx="1429.8" cy="205.6" r="2.5" fill="#ff0000"/><circle cx="1454.4" cy="210.9" r="2.5" fill="#ff0000"/><circle cx="1478.8" cy="217.5" r="2.5" fill="#ff0000"/><circle cx="1504.4" cy="225.7" r="2.5" fill="#ff0000"/><circle cx="1530.5" cy="225.7" r="2.5" fill="#ff0000"/><circle cx="1552.1" cy="228.7" r="2.5" fill="#ff0000"/><circle cx="1575.6" cy="234.9" r="2.5" fill="#ff0000"/><circle cx="1602.1" cy="238.2" r="2.5" fill="#ff0000"/><circle cx="1426.9" cy="238.7" r="2.5" fill="#ff0000"/><circle cx="1447.4" cy="245.5" r="2.5" fill="#ff0000"/><circle cx="1471.2" cy="249.4" r="2.5" fill="#ff0000"/><circle cx="1517.6" cy="248.1" r="2.5" fill="#ff0000"/><circle cx="1537.4" cy="250.7" r="2.5" fill="#ff0000"/><circle cx="1562" cy="250.7" r="2.5" fill="#ff0000"/><circle cx="1587.1" cy="254.8" r="2.5" fill="#ff0000"/><circle cx="1494.6" cy="258.5" r="2.5" fill="#ff0000"/><circle cx="1524.3" cy="261.5" r="2.5" fill="#ff0000"/><circle cx="1613.7" cy="258.5" r="2.5" fill="#ff0000"/><circle cx="1506.6" cy="268.5" r="2.5" fill="#ff0000"/><circle cx="1494.8" cy="274.6" r="2.5" fill="#ff0000"/><circle cx="1547.4" cy="276.3" r="2.5" fill="#ff0000"/><circle cx="1674.7" cy="185.3" r="2.5" fill="#ff0000"/><circle cx="1639" cy="194.2" r="2.5" fill="#ff0000"/><circle cx="1699.8" cy="197.3" r="2.5" fill="#ff0000"/><circle cx="1622.8" cy="209" r="2.5" fill="#ff0000"/><circle cx="1652.7" cy="209.2" r="2.5" fill="#ff0000"/><circle cx="1681.3" cy="214.2" r="2.5" fill="#ff0000"/><circle cx="1709.1" cy="212.3" r="2.5" fill="#ff0000"/><circle cx="1716.4" cy="212" r="2.5" fill="#ff0000"/><circle cx="1632.9" cy="233.7" r="2.5" fill="#ff0000"/><circle cx="1658.9" cy="240.6" r="2.5" fill="#ff0000"/><circle cx="1679.6" cy="247.9" r="2.5" fill="#ff0000"/><circle cx="1643.2" cy="254.8" r="2.5" fill="#ff0000"/><circle cx="1660.4" cy="266.8" r="2.5" fill="#ff0000"/><circle cx="1513.3" cy="280.4" r="2.5" fill="#ff0000"/><circle cx="1531.6" cy="285.4" r="2.5" fill="#ff0000"/><circle cx="1557.4" cy="288.7" r="2.5" fill="#ff0000"/><circle cx="1570.5" cy="282.9" r="2.5" fill="#ff0000"/><circle cx="1595.8" cy="282" r="2.5" fill="#ff0000"/><circle cx="1482.9" cy="291.5" r="2.5" fill="#ff0000"/><circle cx="1502" cy="297.6" r="2.5" fill="#ff0000"/><circle cx="1583.6" cy="293.9" r="2.5" fill="#ff0000"/><circle cx="1601.4" cy="295.1" r="2.5" fill="#ff0000"/><circle cx="1521.1" cy="301.5" r="2.5" fill="#ff0000"/><circle cx="1544.7" cy="304.1" r="2.5" fill="#ff0000"/><circle cx="1474" cy="308.2" r="2.5" fill="#ff0000"/><circle cx="1490.3" cy="310.1" r="2.5" fill="#ff0000"/><circle cx="1509.6" cy="313" r="2.5" fill="#ff0000"/><circle cx="1531.6" cy="318.8" r="2.5" fill="#ff0000"/><circle cx="1566.1" cy="309" r="2.5" fill="#ff0000"/><circle cx="1588.3" cy="313" r="2.5" fill="#ff0000"/><circle cx="1611.7" cy="316.2" r="2.5" fill="#ff0000"/><circle cx="1464.5" cy="322.1" r="2.5" fill="#ff0000"/><circle cx="1481.2" cy="324" r="2.5" fill="#ff0000"/><circle cx="1500.9" cy="328.2" r="2.5" fill="#ff0000"/><circle cx="1552.4" cy="322.9" r="2.5" fill="#ff0000"/><circle cx="1576.2" cy="326.6" r="2.5" fill="#ff0000"/><circle cx="1595.8" cy="331.6" r="2.5" fill="#ff0000"/><circle cx="1455.1" cy="332.9" r="2.5" fill="#ff0000"/><circle cx="1471.3" cy="336.3" r="2.5" fill="#ff0000"/><circle cx="1489.8" cy="338.6" r="2.5" fill="#ff0000"/><circle cx="1518.7" cy="330.8" r="2.5" fill="#ff0000"/><circle cx="1540.8" cy="335.5" r="2.5" fill="#ff0000"/><circle cx="1562.7" cy="339.9" r="2.5" fill="#ff0000"/><circle cx="1583.6" cy="343.8" r="2.5" fill="#ff0000"/><circle cx="1447.3" cy="346.3" r="2.5" fill="#ff0000"/><circle cx="1509.1" cy="343.8" r="2.5" fill="#ff0000"/><circle cx="1529.1" cy="346.8" r="2.5" fill="#ff0000"/><circle cx="1549.3" cy="352.4" r="2.5" fill="#ff0000"/><circle cx="1570.5" cy="354.6" r="2.5" fill="#ff0000"/><circle cx="1463.2" cy="351.4" r="2.5" fill="#ff0000"/><circle cx="1482.3" cy="351" r="2.5" fill="#ff0000"/><circle cx="1500.2" cy="354.7" r="2.5" fill="#ff0000"/><circle cx="1517.9" cy="359.1" r="2.5" fill="#ff0000"/><circle cx="1540" cy="363" r="2.5" fill="#ff0000"/><circle cx="1558.8" cy="367.5" r="2.5" fill="#ff0000"/><circle cx="1621.2" cy="285.6" r="2.5" fill="#ff0000"/><circle cx="1641" cy="288.7" r="2.5" fill="#ff0000"/><circle cx="1627" cy="300.1" r="2.5" fill="#ff0000"/></g>
<g><line x1="70.3" y1="955.3" x2="369.8" y2="1033.8" class="gd"/><line x1="91.8" y1="938.3" x2="391.5" y2="1016.8" class="gd"/><line x1="113.3" y1="921.3" x2="413.2" y2="999.7" class="gd"/><line x1="134.8" y1="904.3" x2="435.0" y2="982.6" class="gd"/><line x1="156.4" y1="887.2" x2="456.7" y2="965.6" class="gd"/><line x1="177.9" y1="870.2" x2="478.5" y2="948.5" class="gd"/><line x1="199.5" y1="853.1" x2="500.3" y2="931.4" class="gd"/><line x1="221.1" y1="836.0" x2="522.1" y2="914.2" class="gd"/><line x1="242.7" y1="818.9" x2="543.9" y2="897.1" class="gd"/><line x1="70.3" y1="955.3" x2="242.7" y2="818.9" class="gs"/><line x1="120.0" y1="968.3" x2="292.7" y2="831.9" class="gs"/><line x1="169.9" y1="981.4" x2="342.8" y2="844.9" class="gs"/><line x1="219.7" y1="994.5" x2="393.0" y2="857.9" class="gs"/><line x1="269.7" y1="1007.6" x2="443.2" y2="871.0" class="gs"/><line x1="319.7" y1="1020.7" x2="493.5" y2="884.0" class="gs"/><line x1="369.8" y1="1033.8" x2="543.9" y2="897.1" class="gs"/><line x1="70.3" y1="955.3" x2="70.3" y2="798.2" class="gs"/><line x1="91.8" y1="938.3" x2="91.8" y2="781.2" class="gs"/><line x1="113.3" y1="921.3" x2="113.3" y2="764.2" class="gs"/><line x1="134.8" y1="904.3" x2="134.8" y2="747.2" class="gs"/><line x1="156.4" y1="887.2" x2="156.4" y2="730.1" class="gs"/><line x1="177.9" y1="870.2" x2="177.9" y2="713.1" class="gs"/><line x1="199.5" y1="853.1" x2="199.5" y2="696.0" class="gs"/><line x1="221.1" y1="836.0" x2="221.1" y2="678.9" class="gs"/><line x1="242.7" y1="818.9" x2="242.7" y2="661.8" class="gs"/><line x1="70.3" y1="955.3" x2="242.7" y2="818.9" class="gs"/><line x1="70.3" y1="923.9" x2="242.7" y2="787.5" class="gs"/><line x1="70.3" y1="892.5" x2="242.7" y2="756.1" class="gs"/><line x1="70.3" y1="861.0" x2="242.7" y2="724.6" class="gs"/><line x1="70.3" y1="829.6" x2="242.7" y2="693.2" class="gs"/><line x1="70.3" y1="798.2" x2="242.7" y2="661.8" class="gs"/><line x1="242.7" y1="818.9" x2="242.7" y2="661.8" class="gs"/><line x1="342.8" y1="844.9" x2="342.8" y2="687.8" class="gs"/><line x1="393.0" y1="857.9" x2="393.0" y2="700.8" class="gs"/><line x1="443.2" y1="871.0" x2="443.2" y2="713.9" class="gs"/><line x1="543.9" y1="897.1" x2="543.9" y2="740.0" class="gs"/><line x1="242.7" y1="818.9" x2="543.9" y2="897.1" class="gd"/><line x1="242.7" y1="787.5" x2="543.9" y2="865.7" class="gd"/><line x1="242.7" y1="756.1" x2="543.9" y2="834.3" class="gd"/><line x1="242.7" y1="724.6" x2="543.9" y2="802.8" class="gd"/><line x1="242.7" y1="693.2" x2="543.9" y2="771.4" class="gd"/><line x1="242.7" y1="661.8" x2="543.9" y2="740.0" class="gd"/></g>
<g><polyline points="70.3,798.2 70.3,955.3 369.8,1033.8 543.9,897.1" class="ax"/><line x1="70.3" y1="955.3" x2="62.1" y2="953.1" class="tk"/><line x1="70.3" y1="923.9" x2="62.1" y2="921.7" class="tk"/><line x1="70.3" y1="892.5" x2="62.1" y2="890.3" class="tk"/><line x1="70.3" y1="861.0" x2="62.1" y2="858.9" class="tk"/><line x1="70.3" y1="829.6" x2="62.1" y2="827.5" class="tk"/><line x1="70.3" y1="798.2" x2="62.1" y2="796.0" class="tk"/><line x1="70.3" y1="955.3" x2="63.6" y2="960.5" class="tk"/><line x1="120.0" y1="968.3" x2="113.4" y2="973.6" class="tk"/><line x1="169.9" y1="981.4" x2="163.2" y2="986.6" class="tk"/><line x1="219.7" y1="994.5" x2="213.1" y2="999.7" class="tk"/><line x1="269.7" y1="1007.6" x2="263.0" y2="1012.8" class="tk"/><line x1="319.7" y1="1020.7" x2="313.0" y2="1025.9" class="tk"/><line x1="369.8" y1="1033.8" x2="363.1" y2="1039.0" class="tk"/><line x1="369.8" y1="1033.8" x2="378.0" y2="1036.0" class="tk"/><line x1="391.5" y1="1016.8" x2="399.7" y2="1018.9" class="tk"/><line x1="413.2" y1="999.7" x2="421.4" y2="1001.9" class="tk"/><line x1="435.0" y1="982.6" x2="443.2" y2="984.8" class="tk"/><line x1="456.7" y1="965.6" x2="464.9" y2="967.7" class="tk"/><line x1="478.5" y1="948.5" x2="486.7" y2="950.6" class="tk"/><line x1="500.3" y1="931.4" x2="508.5" y2="933.5" class="tk"/><line x1="522.1" y1="914.2" x2="530.3" y2="916.4" class="tk"/><line x1="543.9" y1="897.1" x2="552.1" y2="899.3" class="tk"/></g>
<g font-size="26"><text x="56.8" y="834.1" text-anchor="end">-4</text><text x="56.8" y="897.0" text-anchor="end">-5</text><text x="56.8" y="959.8" text-anchor="end">-6</text><text x="57.3" y="982.3" text-anchor="middle">6</text><text x="107.0" y="995.3" text-anchor="middle">4</text><text x="156.9" y="1008.4" text-anchor="middle">2</text><text x="206.7" y="1021.5" text-anchor="middle">0</text><text x="256.7" y="1034.6" text-anchor="middle">-2</text><text x="306.7" y="1047.7" text-anchor="middle">-4</text><text x="356.8" y="1060.8" text-anchor="middle">-6</text><text x="380.3" y="1052.8" text-anchor="start">-4</text><text x="423.7" y="1018.7" text-anchor="start">0</text><text x="467.2" y="984.6" text-anchor="start">4</text><text x="510.8" y="950.4" text-anchor="start">8</text><text x="554.4" y="916.1" text-anchor="start">12</text><text x="55.5" y="740.3" text-anchor="middle">Z(mm)</text><text x="196.0" y="1058.3" text-anchor="middle">Y(mm)</text><text x="498.9" y="1042.6" text-anchor="middle">X(mm)</text></g>
<text transform="translate(318,638.7) scale(0.955,1)" text-anchor="middle" font-size="31.6">405 nm</text>
<g><circle cx="245.8" cy="707.8" r="2.5" fill="#0000ff"/><circle cx="274.2" cy="715.5" r="2.5" fill="#0000ff"/><circle cx="299.5" cy="721.2" r="2.5" fill="#0000ff"/><circle cx="321.7" cy="730.8" r="2.5" fill="#0000ff"/><circle cx="347" cy="726.5" r="2.5" fill="#0000ff"/><circle cx="378" cy="729.8" r="2.5" fill="#0000ff"/><circle cx="402" cy="736.5" r="2.5" fill="#0000ff"/><circle cx="429.3" cy="735.5" r="2.5" fill="#0000ff"/><circle cx="458" cy="734.7" r="2.5" fill="#0000ff"/><circle cx="484.8" cy="734.2" r="2.5" fill="#0000ff"/><circle cx="513.7" cy="741.8" r="2.5" fill="#0000ff"/><circle cx="239.7" cy="749.3" r="2.5" fill="#0000ff"/><circle cx="260.7" cy="743.5" r="2.5" fill="#0000ff"/><circle cx="284.8" cy="756.3" r="2.5" fill="#0000ff"/><circle cx="308.5" cy="755.3" r="2.5" fill="#0000ff"/><circle cx="333.2" cy="757" r="2.5" fill="#0000ff"/><circle cx="360.2" cy="764.5" r="2.5" fill="#0000ff"/><circle cx="385.2" cy="762.8" r="2.5" fill="#0000ff"/><circle cx="411" cy="762.3" r="2.5" fill="#0000ff"/><circle cx="437.2" cy="764.8" r="2.5" fill="#0000ff"/><circle cx="494" cy="767.7" r="2.5" fill="#0000ff"/><circle cx="317.2" cy="776.8" r="2.5" fill="#0000ff"/><circle cx="341.7" cy="783.7" r="2.5" fill="#0000ff"/><circle cx="366.5" cy="787.8" r="2.5" fill="#0000ff"/><circle cx="393.2" cy="791" r="2.5" fill="#0000ff"/><circle cx="420.8" cy="787.3" r="2.5" fill="#0000ff"/><circle cx="445.7" cy="790" r="2.5" fill="#0000ff"/><circle cx="459.3" cy="773.8" r="2.5" fill="#0000ff"/><circle cx="471" cy="793.7" r="2.5" fill="#0000ff"/><circle cx="232" cy="801.3" r="2.5" fill="#0000ff"/><circle cx="252.8" cy="804.2" r="2.5" fill="#0000ff"/><circle cx="275.3" cy="809.5" r="2.5" fill="#0000ff"/><circle cx="295.5" cy="798.8" r="2.5" fill="#0000ff"/><circle cx="302.2" cy="798.3" r="2.5" fill="#0000ff"/><circle cx="328.5" cy="808.8" r="2.5" fill="#0000ff"/><circle cx="353.3" cy="799.5" r="2.5" fill="#0000ff"/><circle cx="399.7" cy="807.5" r="2.5" fill="#0000ff"/><circle cx="376.3" cy="814.5" r="2.5" fill="#0000ff"/><circle cx="429.5" cy="815" r="2.5" fill="#0000ff"/><circle cx="453.3" cy="817.5" r="2.5" fill="#0000ff"/><circle cx="287.3" cy="822.5" r="2.5" fill="#0000ff"/><circle cx="313" cy="822.8" r="2.5" fill="#0000ff"/><circle cx="333.8" cy="830.5" r="2.5" fill="#0000ff"/><circle cx="383.7" cy="829" r="2.5" fill="#0000ff"/><circle cx="412" cy="833.7" r="2.5" fill="#0000ff"/><circle cx="434" cy="835.8" r="2.5" fill="#0000ff"/><circle cx="277" cy="839.2" r="2.5" fill="#0000ff"/><circle cx="297.7" cy="841.2" r="2.5" fill="#0000ff"/><circle cx="319.7" cy="847.3" r="2.5" fill="#0000ff"/><circle cx="359" cy="837.2" r="2.5" fill="#0000ff"/><circle cx="392.8" cy="848.3" r="2.5" fill="#0000ff"/><circle cx="265" cy="855" r="2.5" fill="#0000ff"/><circle cx="283.7" cy="855.3" r="2.5" fill="#0000ff"/><circle cx="346.2" cy="855.8" r="2.5" fill="#0000ff"/><circle cx="370" cy="854.2" r="2.5" fill="#0000ff"/><circle cx="304.2" cy="864.2" r="2.5" fill="#0000ff"/><circle cx="330.2" cy="868.8" r="2.5" fill="#0000ff"/><circle cx="415.7" cy="868.7" r="2.5" fill="#0000ff"/><circle cx="353.3" cy="875.5" r="2.5" fill="#0000ff"/><circle cx="376.3" cy="877.8" r="2.5" fill="#0000ff"/><circle cx="402.2" cy="878.7" r="2.5" fill="#0000ff"/><circle cx="248" cy="881.7" r="2.5" fill="#0000ff"/><circle cx="273" cy="880.3" r="2.5" fill="#0000ff"/><circle cx="295.3" cy="887.3" r="2.5" fill="#0000ff"/><circle cx="316.7" cy="888.8" r="2.5" fill="#0000ff"/><circle cx="237.5" cy="895.7" r="2.5" fill="#0000ff"/><circle cx="255.8" cy="895.2" r="2.5" fill="#0000ff"/><circle cx="338.5" cy="897" r="2.5" fill="#0000ff"/><circle cx="362" cy="898.5" r="2.5" fill="#0000ff"/><circle cx="384.7" cy="899.5" r="2.5" fill="#0000ff"/><circle cx="281.2" cy="905" r="2.5" fill="#0000ff"/><circle cx="301.5" cy="905.5" r="2.5" fill="#0000ff"/><circle cx="326" cy="905.2" r="2.5" fill="#0000ff"/><circle cx="225.7" cy="910" r="2.5" fill="#0000ff"/><circle cx="250.7" cy="914.7" r="2.5" fill="#0000ff"/><circle cx="267.2" cy="914.2" r="2.5" fill="#0000ff"/><circle cx="287.7" cy="918.3" r="2.5" fill="#0000ff"/><circle cx="348" cy="912.5" r="2.5" fill="#0000ff"/><circle cx="372.8" cy="914.2" r="2.5" fill="#0000ff"/><circle cx="313" cy="925" r="2.5" fill="#0000ff"/><circle cx="333.7" cy="931.5" r="2.5" fill="#0000ff"/><circle cx="352.7" cy="926.7" r="2.5" fill="#0000ff"/><circle cx="235.8" cy="933.3" r="2.5" fill="#0000ff"/><circle cx="258.2" cy="936.7" r="2.5" fill="#0000ff"/><circle cx="278.3" cy="939.7" r="2.5" fill="#0000ff"/><circle cx="300.2" cy="941.5" r="2.5" fill="#0000ff"/><circle cx="323.8" cy="946.2" r="2.5" fill="#0000ff"/><circle cx="341.5" cy="951.7" r="2.5" fill="#0000ff"/><circle cx="148.5" cy="934.7" r="2.5" fill="#0000ff"/><circle cx="169.6" cy="946.5" r="2.5" fill="#0000ff"/><circle cx="187.9" cy="951.2" r="2.5" fill="#0000ff"/><circle cx="203.1" cy="951.2" r="2.5" fill="#0000ff"/><circle cx="216.1" cy="929.3" r="2.5" fill="#0000ff"/></g>
<g><line x1="675.2" y1="955.4" x2="974.3" y2="1034.7" class="gd"/><line x1="718.3" y1="921.4" x2="1018.0" y2="1000.3" class="gd"/><line x1="761.4" y1="887.3" x2="1061.7" y2="965.9" class="gd"/><line x1="804.5" y1="853.2" x2="1105.5" y2="931.5" class="gd"/><line x1="847.7" y1="819.0" x2="1149.3" y2="897.0" class="gd"/><line x1="675.2" y1="955.4" x2="847.7" y2="819.0" class="gs"/><line x1="717.5" y1="966.6" x2="890.4" y2="830.0" class="gs"/><line x1="760.0" y1="977.9" x2="933.2" y2="841.1" class="gs"/><line x1="802.6" y1="989.2" x2="976.2" y2="852.2" class="gs"/><line x1="845.3" y1="1000.5" x2="1019.3" y2="863.4" class="gs"/><line x1="888.2" y1="1011.9" x2="1062.5" y2="874.5" class="gs"/><line x1="931.2" y1="1023.3" x2="1105.8" y2="885.8" class="gs"/><line x1="974.3" y1="1034.7" x2="1149.3" y2="897.0" class="gs"/><line x1="675.2" y1="955.4" x2="675.2" y2="798.8" class="gs"/><line x1="718.3" y1="921.4" x2="718.3" y2="764.8" class="gs"/><line x1="761.4" y1="887.3" x2="761.4" y2="730.7" class="gs"/><line x1="804.5" y1="853.2" x2="804.5" y2="696.6" class="gs"/><line x1="847.7" y1="819.0" x2="847.7" y2="662.4" class="gs"/><line x1="675.2" y1="955.4" x2="847.7" y2="819.0" class="gs"/><line x1="675.2" y1="916.2" x2="847.7" y2="779.8" class="gs"/><line x1="675.2" y1="877.1" x2="847.7" y2="740.7" class="gs"/><line x1="675.2" y1="837.9" x2="847.7" y2="701.5" class="gs"/><line x1="675.2" y1="798.8" x2="847.7" y2="662.4" class="gs"/><line x1="847.7" y1="819.0" x2="847.7" y2="662.4" class="gs"/><line x1="890.4" y1="830.0" x2="890.4" y2="673.4" class="gs"/><line x1="933.2" y1="841.1" x2="933.2" y2="684.5" class="gs"/><line x1="976.2" y1="852.2" x2="976.2" y2="695.6" class="gs"/><line x1="1019.3" y1="863.4" x2="1019.3" y2="706.8" class="gs"/><line x1="1062.5" y1="874.5" x2="1062.5" y2="717.9" class="gs"/><line x1="847.7" y1="819.0" x2="1149.3" y2="897.0" class="gd"/><line x1="847.7" y1="779.8" x2="1149.3" y2="857.9" class="gd"/><line x1="847.7" y1="740.7" x2="1149.3" y2="818.7" class="gd"/><line x1="847.7" y1="701.5" x2="1149.3" y2="779.5" class="gd"/><line x1="847.7" y1="662.4" x2="1149.3" y2="740.4" class="gd"/></g>
<g><polyline points="675.2,798.8 675.2,955.4 974.3,1034.7 1149.3,897.0" class="ax"/><line x1="675.2" y1="955.4" x2="667.0" y2="953.2" class="tk"/><line x1="675.2" y1="916.2" x2="667.0" y2="914.1" class="tk"/><line x1="675.2" y1="877.1" x2="667.0" y2="874.9" class="tk"/><line x1="675.2" y1="837.9" x2="667.0" y2="835.8" class="tk"/><line x1="675.2" y1="798.8" x2="667.0" y2="796.6" class="tk"/><line x1="675.2" y1="955.4" x2="668.5" y2="960.7" class="tk"/><line x1="717.5" y1="966.6" x2="710.9" y2="971.9" class="tk"/><line x1="760.0" y1="977.9" x2="753.3" y2="983.1" class="tk"/><line x1="802.6" y1="989.2" x2="795.9" y2="994.4" class="tk"/><line x1="845.3" y1="1000.5" x2="838.7" y2="1005.8" class="tk"/><line x1="888.2" y1="1011.9" x2="881.5" y2="1017.1" class="tk"/><line x1="931.2" y1="1023.3" x2="924.5" y2="1028.5" class="tk"/><line x1="974.3" y1="1034.7" x2="967.6" y2="1040.0" class="tk"/><line x1="974.3" y1="1034.7" x2="982.5" y2="1036.9" class="tk"/><line x1="1018.0" y1="1000.3" x2="1026.2" y2="1002.5" class="tk"/><line x1="1061.7" y1="965.9" x2="1069.9" y2="968.1" class="tk"/><line x1="1105.5" y1="931.5" x2="1113.7" y2="933.7" class="tk"/><line x1="1149.3" y1="897.0" x2="1157.5" y2="899.2" class="tk"/></g>
<g font-size="26"><text x="661.7" y="806.3" text-anchor="end">-3</text><text x="661.7" y="845.4" text-anchor="end">-4</text><text x="661.7" y="884.6" text-anchor="end">-5</text><text x="661.7" y="923.8" text-anchor="end">-6</text><text x="661.7" y="962.9" text-anchor="end">-7</text><text x="659.2" y="982.9" text-anchor="middle">6</text><text x="701.5" y="994.1" text-anchor="middle">4</text><text x="786.6" y="1016.7" text-anchor="middle">0</text><text x="872.2" y="1039.4" text-anchor="middle">-4</text><text x="958.3" y="1062.2" text-anchor="middle">-8</text><text x="983.3" y="1055.7" text-anchor="start">-5</text><text x="1027.0" y="1021.3" text-anchor="start">0</text><text x="1070.7" y="986.9" text-anchor="start">5</text><text x="1114.5" y="952.5" text-anchor="start">10</text><text x="1158.3" y="918.0" text-anchor="start">15</text><text x="657.6" y="740.0" text-anchor="middle">Z(mm)</text><text x="808.0" y="1059.5" text-anchor="middle">Y(mm)</text><text x="1106.3" y="1042.6" text-anchor="middle">X(mm)</text></g>
<text transform="translate(900,634.7) scale(0.955,1)" text-anchor="middle" font-size="31.6">532 nm</text>
<g><circle cx="926.7" cy="727" r="2.5" fill="#00ff00"/><circle cx="965" cy="733" r="2.5" fill="#00ff00"/><circle cx="993" cy="736.2" r="2.5" fill="#00ff00"/><circle cx="1030" cy="730.8" r="2.5" fill="#00ff00"/><circle cx="1105.2" cy="733.2" r="2.5" fill="#00ff00"/><circle cx="914.5" cy="746.2" r="2.5" fill="#00ff00"/><circle cx="978" cy="753.8" r="2.5" fill="#00ff00"/><circle cx="1004.5" cy="759.7" r="2.5" fill="#00ff00"/><circle cx="1042.7" cy="759.2" r="2.5" fill="#00ff00"/><circle cx="1063.2" cy="743.3" r="2.5" fill="#00ff00"/><circle cx="1126.7" cy="753.8" r="2.5" fill="#00ff00"/><circle cx="939.7" cy="764.7" r="2.5" fill="#00ff00"/><circle cx="1069.8" cy="767" r="2.5" fill="#00ff00"/><circle cx="1107.5" cy="774.8" r="2.5" fill="#00ff00"/><circle cx="895.2" cy="773.8" r="2.5" fill="#00ff00"/><circle cx="920.7" cy="784.3" r="2.5" fill="#00ff00"/><circle cx="952.7" cy="783.8" r="2.5" fill="#00ff00"/><circle cx="983.5" cy="789.5" r="2.5" fill="#00ff00"/><circle cx="1017.7" cy="789.8" r="2.5" fill="#00ff00"/><circle cx="1046.3" cy="795.7" r="2.5" fill="#00ff00"/><circle cx="1077.5" cy="805.2" r="2.5" fill="#00ff00"/><circle cx="938.2" cy="797.5" r="2.5" fill="#00ff00"/><circle cx="878.8" cy="804.3" r="2.5" fill="#00ff00"/><circle cx="903.7" cy="804.3" r="2.5" fill="#00ff00"/><circle cx="964.2" cy="810.5" r="2.5" fill="#00ff00"/><circle cx="993.5" cy="819.7" r="2.5" fill="#00ff00"/><circle cx="1055.3" cy="820.8" r="2.5" fill="#00ff00"/><circle cx="862.5" cy="817.8" r="2.5" fill="#00ff00"/><circle cx="887.7" cy="823.7" r="2.5" fill="#00ff00"/><circle cx="848.7" cy="828.8" r="2.5" fill="#00ff00"/><circle cx="912.3" cy="830.3" r="2.5" fill="#00ff00"/><circle cx="946.7" cy="829.2" r="2.5" fill="#00ff00"/><circle cx="1019.7" cy="828.7" r="2.5" fill="#00ff00"/><circle cx="874" cy="835" r="2.5" fill="#00ff00"/><circle cx="975.2" cy="834.5" r="2.5" fill="#00ff00"/><circle cx="1009.5" cy="838.7" r="2.5" fill="#00ff00"/><circle cx="837" cy="843.7" r="2.5" fill="#00ff00"/><circle cx="899.2" cy="842" r="2.5" fill="#00ff00"/><circle cx="1032.7" cy="844" r="2.5" fill="#00ff00"/><circle cx="859.3" cy="852.8" r="2.5" fill="#00ff00"/><circle cx="884.5" cy="853.8" r="2.5" fill="#00ff00"/><circle cx="924.2" cy="849.2" r="2.5" fill="#00ff00"/><circle cx="957.2" cy="852.8" r="2.5" fill="#00ff00"/><circle cx="991.7" cy="856.7" r="2.5" fill="#00ff00"/><circle cx="1010.8" cy="867" r="2.5" fill="#00ff00"/><circle cx="849.2" cy="873.3" r="2.5" fill="#00ff00"/><circle cx="910.7" cy="871.2" r="2.5" fill="#00ff00"/><circle cx="999.7" cy="873.3" r="2.5" fill="#00ff00"/><circle cx="827.2" cy="873.8" r="2.5" fill="#00ff00"/><circle cx="872.3" cy="880.8" r="2.5" fill="#00ff00"/><circle cx="898" cy="882" r="2.5" fill="#00ff00"/><circle cx="935.8" cy="879.7" r="2.5" fill="#00ff00"/><circle cx="967.8" cy="878.8" r="2.5" fill="#00ff00"/><circle cx="812.7" cy="885.3" r="2.5" fill="#00ff00"/><circle cx="835.7" cy="888.8" r="2.5" fill="#00ff00"/><circle cx="922.8" cy="888.8" r="2.5" fill="#00ff00"/><circle cx="860.5" cy="895.3" r="2.5" fill="#00ff00"/><circle cx="882.2" cy="897" r="2.5" fill="#00ff00"/><circle cx="909.8" cy="900.3" r="2.5" fill="#00ff00"/><circle cx="951.8" cy="898" r="2.5" fill="#00ff00"/><circle cx="975.3" cy="899.5" r="2.5" fill="#00ff00"/><circle cx="728.8" cy="902.2" r="2.5" fill="#00ff00"/><circle cx="748.5" cy="905.5" r="2.5" fill="#00ff00"/><circle cx="768.8" cy="908.3" r="2.5" fill="#00ff00"/><circle cx="802" cy="905" r="2.5" fill="#00ff00"/><circle cx="823.8" cy="910" r="2.5" fill="#00ff00"/><circle cx="845.3" cy="912.3" r="2.5" fill="#00ff00"/><circle cx="937" cy="907.2" r="2.5" fill="#00ff00"/><circle cx="724.2" cy="917" r="2.5" fill="#00ff00"/><circle cx="791.3" cy="914.8" r="2.5" fill="#00ff00"/><circle cx="811.3" cy="918.7" r="2.5" fill="#00ff00"/><circle cx="867.5" cy="916.7" r="2.5" fill="#00ff00"/><circle cx="894.5" cy="917" r="2.5" fill="#00ff00"/><circle cx="959.5" cy="913.3" r="2.5" fill="#00ff00"/><circle cx="741.3" cy="921.7" r="2.5" fill="#00ff00"/><circle cx="761.2" cy="926.2" r="2.5" fill="#00ff00"/><circle cx="780.2" cy="928.7" r="2.5" fill="#00ff00"/><circle cx="836.2" cy="921.8" r="2.5" fill="#00ff00"/><circle cx="857.3" cy="926.7" r="2.5" fill="#00ff00"/><circle cx="919.2" cy="928" r="2.5" fill="#00ff00"/><circle cx="943" cy="930" r="2.5" fill="#00ff00"/><circle cx="881" cy="931.7" r="2.5" fill="#00ff00"/><circle cx="907.2" cy="938.8" r="2.5" fill="#00ff00"/><circle cx="928.3" cy="942.2" r="2.5" fill="#00ff00"/></g>
<g><line x1="1285.0" y1="955.2" x2="1583.9" y2="1034.9" class="gd"/><line x1="1313.5" y1="932.6" x2="1613.0" y2="1012.1" class="gd"/><line x1="1342.1" y1="910.0" x2="1642.1" y2="989.2" class="gd"/><line x1="1370.7" y1="887.3" x2="1671.3" y2="966.4" class="gd"/><line x1="1399.3" y1="864.6" x2="1700.5" y2="943.4" class="gd"/><line x1="1428.0" y1="841.9" x2="1729.7" y2="920.5" class="gd"/><line x1="1456.7" y1="819.1" x2="1759.0" y2="897.5" class="gd"/><line x1="1285.0" y1="955.2" x2="1456.7" y2="819.1" class="gs"/><line x1="1359.1" y1="974.9" x2="1531.6" y2="838.5" class="gs"/><line x1="1433.6" y1="994.8" x2="1606.9" y2="858.1" class="gs"/><line x1="1508.5" y1="1014.8" x2="1682.7" y2="877.7" class="gs"/><line x1="1583.9" y1="1034.9" x2="1759.0" y2="897.5" class="gs"/><line x1="1313.5" y1="932.6" x2="1313.5" y2="776.4" class="gs"/><line x1="1370.7" y1="887.3" x2="1370.7" y2="731.1" class="gs"/><line x1="1428.0" y1="841.9" x2="1428.0" y2="685.7" class="gs"/><line x1="1456.7" y1="819.1" x2="1456.7" y2="662.9" class="gs"/><line x1="1285.0" y1="955.2" x2="1456.7" y2="819.1" class="gs"/><line x1="1285.0" y1="930.6" x2="1456.7" y2="794.5" class="gs"/><line x1="1285.0" y1="906.0" x2="1456.7" y2="769.9" class="gs"/><line x1="1285.0" y1="881.4" x2="1456.7" y2="745.3" class="gs"/><line x1="1285.0" y1="856.8" x2="1456.7" y2="720.7" class="gs"/><line x1="1285.0" y1="832.2" x2="1456.7" y2="696.1" class="gs"/><line x1="1285.0" y1="807.6" x2="1456.7" y2="671.5" class="gs"/><line x1="1456.7" y1="819.1" x2="1456.7" y2="662.9" class="gs"/><line x1="1531.6" y1="838.5" x2="1531.6" y2="682.3" class="gs"/><line x1="1606.9" y1="858.1" x2="1606.9" y2="701.9" class="gs"/><line x1="1682.7" y1="877.7" x2="1682.7" y2="721.5" class="gs"/><line x1="1759.0" y1="897.5" x2="1759.0" y2="741.3" class="gs"/><line x1="1456.7" y1="819.1" x2="1759.0" y2="897.5" class="gd"/><line x1="1456.7" y1="794.5" x2="1759.0" y2="872.9" class="gd"/><line x1="1456.7" y1="769.9" x2="1759.0" y2="848.3" class="gd"/><line x1="1456.7" y1="745.3" x2="1759.0" y2="823.7" class="gd"/><line x1="1456.7" y1="720.7" x2="1759.0" y2="799.1" class="gd"/><line x1="1456.7" y1="696.1" x2="1759.0" y2="774.5" class="gd"/><line x1="1456.7" y1="671.5" x2="1759.0" y2="749.9" class="gd"/></g>
<g><polyline points="1285.0,799.0 1285.0,955.2 1583.9,1034.9 1759.0,897.5" class="ax"/><line x1="1285.0" y1="955.2" x2="1276.8" y2="953.0" class="tk"/><line x1="1285.0" y1="930.6" x2="1276.8" y2="928.4" class="tk"/><line x1="1285.0" y1="906.0" x2="1276.8" y2="903.8" class="tk"/><line x1="1285.0" y1="881.4" x2="1276.8" y2="879.2" class="tk"/><line x1="1285.0" y1="856.8" x2="1276.8" y2="854.6" class="tk"/><line x1="1285.0" y1="832.2" x2="1276.8" y2="830.0" class="tk"/><line x1="1285.0" y1="807.6" x2="1276.8" y2="805.4" class="tk"/><line x1="1285.0" y1="955.2" x2="1278.3" y2="960.4" class="tk"/><line x1="1359.1" y1="974.9" x2="1352.4" y2="980.2" class="tk"/><line x1="1433.6" y1="994.8" x2="1426.9" y2="1000.1" class="tk"/><line x1="1508.5" y1="1014.8" x2="1501.8" y2="1020.0" class="tk"/><line x1="1583.9" y1="1034.9" x2="1577.2" y2="1040.1" class="tk"/><line x1="1583.9" y1="1034.9" x2="1592.1" y2="1037.1" class="tk"/><line x1="1613.0" y1="1012.1" x2="1621.2" y2="1014.3" class="tk"/><line x1="1642.1" y1="989.2" x2="1650.3" y2="991.4" class="tk"/><line x1="1671.3" y1="966.4" x2="1679.5" y2="968.5" class="tk"/><line x1="1700.5" y1="943.4" x2="1708.7" y2="945.6" class="tk"/><line x1="1729.7" y1="920.5" x2="1737.9" y2="922.7" class="tk"/><line x1="1759.0" y1="897.5" x2="1767.2" y2="899.7" class="tk"/></g>
<g font-size="26"><text x="1271.5" y="813.6" text-anchor="end">-3</text><text x="1271.5" y="862.8" text-anchor="end">-4</text><text x="1271.5" y="912.0" text-anchor="end">-5</text><text x="1271.5" y="961.2" text-anchor="end">-6</text><text x="1270.0" y="982.2" text-anchor="middle">10</text><text x="1344.1" y="1001.9" text-anchor="middle">5</text><text x="1418.6" y="1021.8" text-anchor="middle">0</text><text x="1493.5" y="1041.8" text-anchor="middle">-5</text><text x="1568.9" y="1061.9" text-anchor="middle">-10</text><text x="1592.9" y="1050.9" text-anchor="start">-10</text><text x="1651.1" y="1005.2" text-anchor="start">0</text><text x="1709.5" y="959.4" text-anchor="start">10</text><text x="1768.0" y="913.5" text-anchor="start">20</text><text x="1264.5" y="740.0" text-anchor="middle">Z(mm)</text><text x="1417.7" y="1058.4" text-anchor="middle">Y(mm)</text><text x="1726.5" y="1040.3" text-anchor="middle">X(mm)</text></g>
<text transform="translate(1507,630.7) scale(0.955,1)" text-anchor="middle" font-size="31.6">633 nm</text>
<g><circle cx="1454.7" cy="745.5" r="2.5" fill="#ff0000"/><circle cx="1479.5" cy="751.7" r="2.5" fill="#ff0000"/><circle cx="1506.3" cy="753.3" r="2.5" fill="#ff0000"/><circle cx="1529.2" cy="756.3" r="2.5" fill="#ff0000"/><circle cx="1560.5" cy="758" r="2.5" fill="#ff0000"/><circle cx="1585.2" cy="742.3" r="2.5" fill="#ff0000"/><circle cx="1674.7" cy="736.7" r="2.5" fill="#ff0000"/><circle cx="1638.8" cy="752.8" r="2.5" fill="#ff0000"/><circle cx="1699.7" cy="750.8" r="2.5" fill="#ff0000"/><circle cx="1442" cy="760" r="2.5" fill="#ff0000"/><circle cx="1466.3" cy="765.3" r="2.5" fill="#ff0000"/><circle cx="1492.5" cy="771.7" r="2.5" fill="#ff0000"/><circle cx="1568.8" cy="767" r="2.5" fill="#ff0000"/><circle cx="1594.3" cy="767.8" r="2.5" fill="#ff0000"/><circle cx="1607.5" cy="764.7" r="2.5" fill="#ff0000"/><circle cx="1622.7" cy="768.5" r="2.5" fill="#ff0000"/><circle cx="1652.7" cy="766" r="2.5" fill="#ff0000"/><circle cx="1681.3" cy="770.7" r="2.5" fill="#ff0000"/><circle cx="1709.2" cy="763.8" r="2.5" fill="#ff0000"/><circle cx="1716.3" cy="769.7" r="2.5" fill="#ff0000"/><circle cx="1545.2" cy="774.3" r="2.5" fill="#ff0000"/><circle cx="1516.3" cy="779.2" r="2.5" fill="#ff0000"/><circle cx="1429.7" cy="780" r="2.5" fill="#ff0000"/><circle cx="1454.2" cy="786.2" r="2.5" fill="#ff0000"/><circle cx="1478.7" cy="792.7" r="2.5" fill="#ff0000"/><circle cx="1504.5" cy="801" r="2.5" fill="#ff0000"/><circle cx="1530.8" cy="798.3" r="2.5" fill="#ff0000"/><circle cx="1552.2" cy="800" r="2.5" fill="#ff0000"/><circle cx="1575.5" cy="806.2" r="2.5" fill="#ff0000"/><circle cx="1602.2" cy="807.3" r="2.5" fill="#ff0000"/><circle cx="1632.7" cy="797.7" r="2.5" fill="#ff0000"/><circle cx="1658.8" cy="804.5" r="2.5" fill="#ff0000"/><circle cx="1679.5" cy="812.8" r="2.5" fill="#ff0000"/><circle cx="1643.2" cy="820.8" r="2.5" fill="#ff0000"/><circle cx="1426.7" cy="825.2" r="2.5" fill="#ff0000"/><circle cx="1447.5" cy="832.5" r="2.5" fill="#ff0000"/><circle cx="1471.5" cy="835.3" r="2.5" fill="#ff0000"/><circle cx="1517.5" cy="826" r="2.5" fill="#ff0000"/><circle cx="1537.5" cy="827.7" r="2.5" fill="#ff0000"/><circle cx="1562" cy="825.2" r="2.5" fill="#ff0000"/><circle cx="1586.8" cy="828.3" r="2.5" fill="#ff0000"/><circle cx="1613.3" cy="829.7" r="2.5" fill="#ff0000"/><circle cx="1660.2" cy="836.7" r="2.5" fill="#ff0000"/><circle cx="1524.2" cy="839.5" r="2.5" fill="#ff0000"/><circle cx="1494.5" cy="846" r="2.5" fill="#ff0000"/><circle cx="1506.3" cy="852.8" r="2.5" fill="#ff0000"/><circle cx="1494.5" cy="858" r="2.5" fill="#ff0000"/><circle cx="1547.2" cy="860.3" r="2.5" fill="#ff0000"/><circle cx="1595.8" cy="862" r="2.5" fill="#ff0000"/><circle cx="1621.3" cy="863.5" r="2.5" fill="#ff0000"/><circle cx="1641.2" cy="865.8" r="2.5" fill="#ff0000"/><circle cx="1512.8" cy="863.7" r="2.5" fill="#ff0000"/><circle cx="1531.7" cy="868.7" r="2.5" fill="#ff0000"/><circle cx="1557.2" cy="869.5" r="2.5" fill="#ff0000"/><circle cx="1570.3" cy="866.5" r="2.5" fill="#ff0000"/><circle cx="1583.5" cy="875" r="2.5" fill="#ff0000"/><circle cx="1601.3" cy="873.7" r="2.5" fill="#ff0000"/><circle cx="1626.7" cy="877.8" r="2.5" fill="#ff0000"/><circle cx="1482.8" cy="878.3" r="2.5" fill="#ff0000"/><circle cx="1501.7" cy="886.7" r="2.5" fill="#ff0000"/><circle cx="1521" cy="889.5" r="2.5" fill="#ff0000"/><circle cx="1544.7" cy="889.5" r="2.5" fill="#ff0000"/><circle cx="1565.8" cy="893.8" r="2.5" fill="#ff0000"/><circle cx="1588.3" cy="897" r="2.5" fill="#ff0000"/><circle cx="1611.7" cy="898.8" r="2.5" fill="#ff0000"/><circle cx="1474.2" cy="900" r="2.5" fill="#ff0000"/><circle cx="1490.2" cy="900.2" r="2.5" fill="#ff0000"/><circle cx="1509.5" cy="901.8" r="2.5" fill="#ff0000"/><circle cx="1531.7" cy="908" r="2.5" fill="#ff0000"/><circle cx="1552.5" cy="911.7" r="2.5" fill="#ff0000"/><circle cx="1576.2" cy="913.3" r="2.5" fill="#ff0000"/><circle cx="1596" cy="918.7" r="2.5" fill="#ff0000"/><circle cx="1464.7" cy="917.8" r="2.5" fill="#ff0000"/><circle cx="1481.2" cy="917.8" r="2.5" fill="#ff0000"/><circle cx="1500.8" cy="920.8" r="2.5" fill="#ff0000"/><circle cx="1518.5" cy="922.5" r="2.5" fill="#ff0000"/><circle cx="1540.8" cy="926.7" r="2.5" fill="#ff0000"/><circle cx="1562.5" cy="930.2" r="2.5" fill="#ff0000"/><circle cx="1583.7" cy="933.8" r="2.5" fill="#ff0000"/><circle cx="1455.2" cy="930" r="2.5" fill="#ff0000"/><circle cx="1471.3" cy="933.3" r="2.5" fill="#ff0000"/><circle cx="1489.7" cy="933.3" r="2.5" fill="#ff0000"/><circle cx="1509.2" cy="938.3" r="2.5" fill="#ff0000"/><circle cx="1529.2" cy="940.3" r="2.5" fill="#ff0000"/><circle cx="1549.5" cy="946.2" r="2.5" fill="#ff0000"/><circle cx="1570.3" cy="946.3" r="2.5" fill="#ff0000"/><circle cx="1447.5" cy="946.7" r="2.5" fill="#ff0000"/><circle cx="1463" cy="952.7" r="2.5" fill="#ff0000"/><circle cx="1482.5" cy="949.2" r="2.5" fill="#ff0000"/><circle cx="1500" cy="952.5" r="2.5" fill="#ff0000"/><circle cx="1518" cy="956.2" r="2.5" fill="#ff0000"/><circle cx="1540.3" cy="958.3" r="2.5" fill="#ff0000"/><circle cx="1559.2" cy="963.3" r="2.5" fill="#ff0000"/></g>
<circle cx="1501.2" cy="659" r="1.3" fill="#c8c8c8"/><circle cx="1504.8" cy="82" r="1.3" fill="#d8d8d8"/>
<text x="0.8" y="33" class="lbl">(a)</text>
<text x="564.6" y="33" class="lbl">(b)</text>
<text x="1182.6" y="33" class="lbl">(c)</text>
<text x="0.8" y="628" class="lbl">(d)</text>
<text x="564.6" y="628" class="lbl">(e)</text>
<text x="1182.6" y="628" class="lbl">(f)</text>
</svg></body></html>
